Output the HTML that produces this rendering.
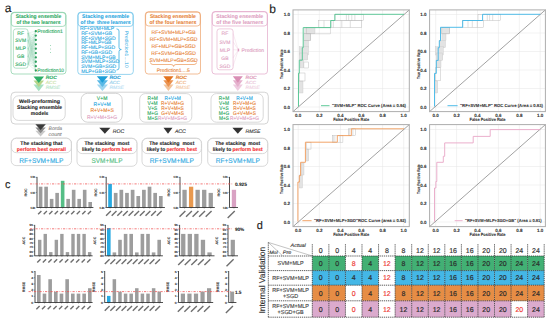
<!DOCTYPE html>
<html><head><meta charset="utf-8"><style>
html,body{margin:0;padding:0;background:#fff;overflow:hidden;}
svg{display:block;font-family:"Liberation Sans",sans-serif;}
</style></head><body>
<svg width="550" height="324" viewBox="0 0 550 324" text-rendering="geometricPrecision">
<rect x="0" y="0" width="550" height="324" fill="#fff"/>
<text x="4.8" y="12.22" font-size="12" fill="#222222" stroke="#222222" stroke-width="0.12" >a</text>
<rect x="11" y="12.3" width="55" height="61.7" rx="3" fill="none" stroke="#84cfa5" stroke-width="0.7" />
<rect x="11.3" y="12.6" width="54.4" height="13.8" rx="3" fill="none" stroke="#84cfa5" stroke-width="0.7" />
<text x="38.5" y="18.01" font-size="5.3" fill="#2eab64" font-weight="bold" text-anchor="middle" textLength="45.5" lengthAdjust="spacingAndGlyphs" stroke="#2eab64" stroke-width="0.09" >Stacking ensemble</text>
<text x="38.5" y="23.91" font-size="5.3" fill="#2eab64" font-weight="bold" text-anchor="middle" textLength="44" lengthAdjust="spacingAndGlyphs" stroke="#2eab64" stroke-width="0.09" >of the two learners</text>
<rect x="77.8" y="12.2" width="55.5" height="62.2" rx="3" fill="none" stroke="#6cc3ea" stroke-width="0.7" />
<rect x="78.1" y="12.5" width="54.9" height="13.9" rx="3" fill="none" stroke="#6cc3ea" stroke-width="0.7" />
<text x="105.55" y="18.01" font-size="5.3" fill="#2aa8df" font-weight="bold" text-anchor="middle" textLength="47" lengthAdjust="spacingAndGlyphs" stroke="#2aa8df" stroke-width="0.09" >Stacking ensemble</text>
<text x="105.55" y="23.91" font-size="5.3" fill="#2aa8df" font-weight="bold" text-anchor="middle" textLength="50" lengthAdjust="spacingAndGlyphs" stroke="#2aa8df" stroke-width="0.09" >of the  three learners</text>
<rect x="145.3" y="11.8" width="55.2" height="62.2" rx="3" fill="none" stroke="#eda26a" stroke-width="0.7" />
<rect x="145.6" y="12.1" width="54.6" height="13.9" rx="3" fill="none" stroke="#eda26a" stroke-width="0.7" />
<text x="172.9" y="18.01" font-size="5.3" fill="#e8853a" font-weight="bold" text-anchor="middle" textLength="46" lengthAdjust="spacingAndGlyphs" stroke="#e8853a" stroke-width="0.09" >Stacking ensemble</text>
<text x="172.9" y="23.91" font-size="5.3" fill="#e8853a" font-weight="bold" text-anchor="middle" textLength="47" lengthAdjust="spacingAndGlyphs" stroke="#e8853a" stroke-width="0.09" >of the four learners</text>
<rect x="212" y="11.5" width="55.5" height="62.5" rx="3" fill="none" stroke="#e2a8c8" stroke-width="0.7" />
<rect x="212.3" y="11.8" width="54.9" height="14.2" rx="3" fill="none" stroke="#e2a8c8" stroke-width="0.7" />
<text x="239.75" y="18.01" font-size="5.3" fill="#e09fc2" font-weight="bold" text-anchor="middle" textLength="47" lengthAdjust="spacingAndGlyphs" stroke="#e09fc2" stroke-width="0.09" >Stacking ensemble</text>
<text x="239.75" y="23.91" font-size="5.3" fill="#e09fc2" font-weight="bold" text-anchor="middle" textLength="47" lengthAdjust="spacingAndGlyphs" stroke="#e09fc2" stroke-width="0.09" >of the five learners</text>
<rect x="13.4" y="28.9" width="14.6" height="39.3" rx="2.5" fill="none" stroke="#84cfa5" stroke-width="0.6" />
<text x="20.7" y="34.8" font-size="5" fill="#2eab64" text-anchor="middle" stroke="#2eab64" stroke-width="0.12" >RF</text>
<text x="20.7" y="42.2" font-size="5" fill="#2eab64" text-anchor="middle" stroke="#2eab64" stroke-width="0.12" >SVM</text>
<text x="20.7" y="50.3" font-size="5" fill="#2eab64" text-anchor="middle" stroke="#2eab64" stroke-width="0.12" >MLP</text>
<text x="20.7" y="58.4" font-size="5" fill="#2eab64" text-anchor="middle" stroke="#2eab64" stroke-width="0.12" >GB</text>
<text x="20.7" y="66.2" font-size="5" fill="#2eab64" text-anchor="middle" stroke="#2eab64" stroke-width="0.12" >SGD</text>
<line x1="28" y1="33" x2="35.8" y2="31.2" stroke="#8fd1ae" stroke-width="0.22" />
<line x1="28" y1="33" x2="35.8" y2="35.57" stroke="#8fd1ae" stroke-width="0.22" />
<line x1="28" y1="33" x2="35.8" y2="39.93" stroke="#8fd1ae" stroke-width="0.22" />
<line x1="28" y1="33" x2="35.8" y2="44.3" stroke="#8fd1ae" stroke-width="0.22" />
<line x1="28" y1="33" x2="35.8" y2="48.67" stroke="#8fd1ae" stroke-width="0.22" />
<line x1="28" y1="33" x2="35.8" y2="53.03" stroke="#8fd1ae" stroke-width="0.22" />
<line x1="28" y1="33" x2="35.8" y2="57.4" stroke="#8fd1ae" stroke-width="0.22" />
<line x1="28" y1="33" x2="35.8" y2="61.77" stroke="#8fd1ae" stroke-width="0.22" />
<line x1="28" y1="33" x2="35.8" y2="66.13" stroke="#8fd1ae" stroke-width="0.22" />
<line x1="28" y1="33" x2="35.8" y2="70.5" stroke="#8fd1ae" stroke-width="0.22" />
<line x1="28" y1="40.4" x2="35.8" y2="31.2" stroke="#8fd1ae" stroke-width="0.22" />
<line x1="28" y1="40.4" x2="35.8" y2="35.57" stroke="#8fd1ae" stroke-width="0.22" />
<line x1="28" y1="40.4" x2="35.8" y2="39.93" stroke="#8fd1ae" stroke-width="0.22" />
<line x1="28" y1="40.4" x2="35.8" y2="44.3" stroke="#8fd1ae" stroke-width="0.22" />
<line x1="28" y1="40.4" x2="35.8" y2="48.67" stroke="#8fd1ae" stroke-width="0.22" />
<line x1="28" y1="40.4" x2="35.8" y2="53.03" stroke="#8fd1ae" stroke-width="0.22" />
<line x1="28" y1="40.4" x2="35.8" y2="57.4" stroke="#8fd1ae" stroke-width="0.22" />
<line x1="28" y1="40.4" x2="35.8" y2="61.77" stroke="#8fd1ae" stroke-width="0.22" />
<line x1="28" y1="40.4" x2="35.8" y2="66.13" stroke="#8fd1ae" stroke-width="0.22" />
<line x1="28" y1="40.4" x2="35.8" y2="70.5" stroke="#8fd1ae" stroke-width="0.22" />
<line x1="28" y1="48.5" x2="35.8" y2="31.2" stroke="#8fd1ae" stroke-width="0.22" />
<line x1="28" y1="48.5" x2="35.8" y2="35.57" stroke="#8fd1ae" stroke-width="0.22" />
<line x1="28" y1="48.5" x2="35.8" y2="39.93" stroke="#8fd1ae" stroke-width="0.22" />
<line x1="28" y1="48.5" x2="35.8" y2="44.3" stroke="#8fd1ae" stroke-width="0.22" />
<line x1="28" y1="48.5" x2="35.8" y2="48.67" stroke="#8fd1ae" stroke-width="0.22" />
<line x1="28" y1="48.5" x2="35.8" y2="53.03" stroke="#8fd1ae" stroke-width="0.22" />
<line x1="28" y1="48.5" x2="35.8" y2="57.4" stroke="#8fd1ae" stroke-width="0.22" />
<line x1="28" y1="48.5" x2="35.8" y2="61.77" stroke="#8fd1ae" stroke-width="0.22" />
<line x1="28" y1="48.5" x2="35.8" y2="66.13" stroke="#8fd1ae" stroke-width="0.22" />
<line x1="28" y1="48.5" x2="35.8" y2="70.5" stroke="#8fd1ae" stroke-width="0.22" />
<line x1="28" y1="56.6" x2="35.8" y2="31.2" stroke="#8fd1ae" stroke-width="0.22" />
<line x1="28" y1="56.6" x2="35.8" y2="35.57" stroke="#8fd1ae" stroke-width="0.22" />
<line x1="28" y1="56.6" x2="35.8" y2="39.93" stroke="#8fd1ae" stroke-width="0.22" />
<line x1="28" y1="56.6" x2="35.8" y2="44.3" stroke="#8fd1ae" stroke-width="0.22" />
<line x1="28" y1="56.6" x2="35.8" y2="48.67" stroke="#8fd1ae" stroke-width="0.22" />
<line x1="28" y1="56.6" x2="35.8" y2="53.03" stroke="#8fd1ae" stroke-width="0.22" />
<line x1="28" y1="56.6" x2="35.8" y2="57.4" stroke="#8fd1ae" stroke-width="0.22" />
<line x1="28" y1="56.6" x2="35.8" y2="61.77" stroke="#8fd1ae" stroke-width="0.22" />
<line x1="28" y1="56.6" x2="35.8" y2="66.13" stroke="#8fd1ae" stroke-width="0.22" />
<line x1="28" y1="56.6" x2="35.8" y2="70.5" stroke="#8fd1ae" stroke-width="0.22" />
<line x1="28" y1="64.4" x2="35.8" y2="31.2" stroke="#8fd1ae" stroke-width="0.22" />
<line x1="28" y1="64.4" x2="35.8" y2="35.57" stroke="#8fd1ae" stroke-width="0.22" />
<line x1="28" y1="64.4" x2="35.8" y2="39.93" stroke="#8fd1ae" stroke-width="0.22" />
<line x1="28" y1="64.4" x2="35.8" y2="44.3" stroke="#8fd1ae" stroke-width="0.22" />
<line x1="28" y1="64.4" x2="35.8" y2="48.67" stroke="#8fd1ae" stroke-width="0.22" />
<line x1="28" y1="64.4" x2="35.8" y2="53.03" stroke="#8fd1ae" stroke-width="0.22" />
<line x1="28" y1="64.4" x2="35.8" y2="57.4" stroke="#8fd1ae" stroke-width="0.22" />
<line x1="28" y1="64.4" x2="35.8" y2="61.77" stroke="#8fd1ae" stroke-width="0.22" />
<line x1="28" y1="64.4" x2="35.8" y2="66.13" stroke="#8fd1ae" stroke-width="0.22" />
<line x1="28" y1="64.4" x2="35.8" y2="70.5" stroke="#8fd1ae" stroke-width="0.22" />
<circle cx="35.8" cy="31.2" r="1.15" fill="#2a9d5c"/>
<circle cx="35.8" cy="35.57" r="1.15" fill="#2a9d5c"/>
<circle cx="35.8" cy="39.93" r="1.15" fill="#2a9d5c"/>
<circle cx="35.8" cy="44.3" r="1.15" fill="#2a9d5c"/>
<circle cx="35.8" cy="48.67" r="1.15" fill="#2a9d5c"/>
<circle cx="35.8" cy="53.03" r="1.15" fill="#2a9d5c"/>
<circle cx="35.8" cy="57.4" r="1.15" fill="#2a9d5c"/>
<circle cx="35.8" cy="61.77" r="1.15" fill="#2a9d5c"/>
<circle cx="35.8" cy="66.13" r="1.15" fill="#2a9d5c"/>
<circle cx="35.8" cy="70.5" r="1.15" fill="#2a9d5c"/>
<text x="37.3" y="33.3" font-size="5" fill="#2eab64" textLength="25.5" lengthAdjust="spacingAndGlyphs" stroke="#2eab64" stroke-width="0.12" >Prediction1</text>
<text x="37.3" y="72.3" font-size="5" fill="#2eab64" textLength="26.7" lengthAdjust="spacingAndGlyphs" stroke="#2eab64" stroke-width="0.12" >Prediction10</text>
<circle cx="50.4" cy="45.5" r="0.4" fill="#2eab64"/>
<circle cx="50.4" cy="49" r="0.4" fill="#2eab64"/>
<circle cx="50.4" cy="52.5" r="0.4" fill="#2eab64"/>
<text x="80.1" y="30.24" font-size="5.1" fill="#2aa8df" textLength="33.96" lengthAdjust="spacingAndGlyphs" stroke="#2aa8df" stroke-width="0.12" >RF+SVM+MLP</text>
<text x="81.2" y="34.97" font-size="5.1" fill="#2aa8df" textLength="30.87" lengthAdjust="spacingAndGlyphs" stroke="#2aa8df" stroke-width="0.12" >RF+SVM+GB</text>
<text x="81.2" y="39.7" font-size="5.1" fill="#2aa8df" textLength="34.52" lengthAdjust="spacingAndGlyphs" stroke="#2aa8df" stroke-width="0.12" >RF+SVM+SGD</text>
<text x="81.2" y="44.44" font-size="5.1" fill="#2aa8df" textLength="30.31" lengthAdjust="spacingAndGlyphs" stroke="#2aa8df" stroke-width="0.12" >RF+MLP+GB</text>
<text x="81.2" y="49.17" font-size="5.1" fill="#2aa8df" textLength="33.96" lengthAdjust="spacingAndGlyphs" stroke="#2aa8df" stroke-width="0.12" >RF+MLP+SGD</text>
<text x="81.2" y="53.9" font-size="5.1" fill="#2aa8df" textLength="30.87" lengthAdjust="spacingAndGlyphs" stroke="#2aa8df" stroke-width="0.12" >RF+GB+SGD</text>
<text x="81.2" y="58.64" font-size="5.1" fill="#2aa8df" textLength="34.52" lengthAdjust="spacingAndGlyphs" stroke="#2aa8df" stroke-width="0.12" >SVM+MLP+GB</text>
<text x="81.2" y="63.37" font-size="5.1" fill="#2aa8df" textLength="38.17" lengthAdjust="spacingAndGlyphs" stroke="#2aa8df" stroke-width="0.12" >SVM+MLP+SGD</text>
<text x="81.2" y="68.1" font-size="5.1" fill="#2aa8df" textLength="35.08" lengthAdjust="spacingAndGlyphs" stroke="#2aa8df" stroke-width="0.12" >SVM+GB+SGD</text>
<text x="81.2" y="72.84" font-size="5.1" fill="#2aa8df" textLength="34.52" lengthAdjust="spacingAndGlyphs" stroke="#2aa8df" stroke-width="0.12" >MLP+GB+SGD</text>
<path d="M116.5,28.9 Q119,28.9 119,31 L119,47.5 Q119,49.5 121.3,49.5 Q119,49.5 119,51.5 L119,68 Q119,70 116.5,70" stroke="#2aa8df" stroke-width="0.75" fill="none" />
<text x="0" y="0" font-size="4.9" fill="#2aa8df" transform="translate(125.2,49.3) rotate(90)" text-anchor="middle" textLength="37" lengthAdjust="spacingAndGlyphs">Prediction1....10</text>
<text x="173.6" y="33.87" font-size="5.2" fill="#e8853a" text-anchor="middle" textLength="44.03" lengthAdjust="spacingAndGlyphs" stroke="#e8853a" stroke-width="0.12" >RF+SVM+MLP+GB</text>
<text x="173.6" y="40.77" font-size="5.2" fill="#e8853a" text-anchor="middle" textLength="47.66" lengthAdjust="spacingAndGlyphs" stroke="#e8853a" stroke-width="0.12" >RF+SVM+MLP+SGD</text>
<text x="173.6" y="47.67" font-size="5.2" fill="#e8853a" text-anchor="middle" textLength="44.03" lengthAdjust="spacingAndGlyphs" stroke="#e8853a" stroke-width="0.12" >RF+MLP+GB+SGD</text>
<text x="173.6" y="54.67" font-size="5.2" fill="#e8853a" text-anchor="middle" textLength="44.58" lengthAdjust="spacingAndGlyphs" stroke="#e8853a" stroke-width="0.12" >RF+SVM+GB+SGD</text>
<text x="173.6" y="62.07" font-size="5.2" fill="#e8853a" text-anchor="middle" textLength="48.22" lengthAdjust="spacingAndGlyphs" stroke="#e8853a" stroke-width="0.12" >SVM+MLP+GB+SGD</text>
<path d="M150.5,62.5 Q150.5,64.5 153,64.5 L171,64.5 Q173.6,64.5 173.6,66.5 Q173.6,64.5 176,64.5 L194,64.5 Q196.5,64.5 196.5,62.5" stroke="#e8853a" stroke-width="0.6" fill="none" />
<text x="156.7" y="72.2" font-size="5" fill="#e8853a" textLength="33.1" lengthAdjust="spacingAndGlyphs" stroke="#e8853a" stroke-width="0.12" >Prediction1....5</text>
<rect x="217" y="28.9" width="16.1" height="40.9" rx="2.5" fill="none" stroke="#e2a8c8" stroke-width="0.6" />
<text x="224.9" y="35.3" font-size="5" fill="#e09fc2" text-anchor="middle" stroke="#e09fc2" stroke-width="0.12" >RF</text>
<text x="224.9" y="43.5" font-size="5" fill="#e09fc2" text-anchor="middle" stroke="#e09fc2" stroke-width="0.12" >SVM</text>
<text x="224.9" y="51.5" font-size="5" fill="#e09fc2" text-anchor="middle" stroke="#e09fc2" stroke-width="0.12" >MLP</text>
<text x="224.9" y="59.7" font-size="5" fill="#e09fc2" text-anchor="middle" stroke="#e09fc2" stroke-width="0.12" >GB</text>
<text x="224.9" y="67.7" font-size="5" fill="#e09fc2" text-anchor="middle" stroke="#e09fc2" stroke-width="0.12" >SGD</text>
<line x1="233.1" y1="33.5" x2="238.3" y2="50" stroke="#e8bcd4" stroke-width="0.3" />
<line x1="233.1" y1="41.7" x2="238.3" y2="50" stroke="#e8bcd4" stroke-width="0.3" />
<line x1="233.1" y1="49.7" x2="238.3" y2="50" stroke="#e8bcd4" stroke-width="0.3" />
<line x1="233.1" y1="57.9" x2="238.3" y2="50" stroke="#e8bcd4" stroke-width="0.3" />
<line x1="233.1" y1="65.9" x2="238.3" y2="50" stroke="#e8bcd4" stroke-width="0.3" />
<rect x="237.8" y="48.6" width="1.4" height="2.8" rx="0" fill="#e09fc2" stroke="none" stroke-width="0.6" />
<text x="241.6" y="51.8" font-size="5" fill="#e09fc2" textLength="22.4" lengthAdjust="spacingAndGlyphs" stroke="#e09fc2" stroke-width="0.12" >Prediction</text>
<polygon points="33.5,84.6 44,84.6 38.75,91.2" fill="#a6e0c0" stroke="none" stroke-width="0" />
<polygon points="33.5,80.5 44,80.5 38.75,87.1" fill="#b6d58a" stroke="none" stroke-width="0" />
<polygon points="33.5,76.4 44,76.4 38.75,83" fill="#2fae68" stroke="none" stroke-width="0" />
<text x="45.8" y="79.26" font-size="4.6" fill="#2fae68" font-weight="bold" font-style="italic" textLength="11" lengthAdjust="spacingAndGlyphs" stroke="#2fae68" stroke-width="0.12" >ROC</text>
<text x="45.8" y="84.36" font-size="4.6" fill="#c5dea0" font-style="italic" textLength="10.45" lengthAdjust="spacingAndGlyphs" stroke="#c5dea0" stroke-width="0.12" >ACC</text>
<text x="45.8" y="89.46" font-size="4.6" fill="#b7e6cc" font-style="italic" textLength="14.3" lengthAdjust="spacingAndGlyphs" stroke="#b7e6cc" stroke-width="0.12" >RMSE</text>
<polygon points="96.8,84.4 108,84.4 102.4,91" fill="#9fd6f0" stroke="none" stroke-width="0" />
<polygon points="96.8,80.3 108,80.3 102.4,86.9" fill="#5ab9e6" stroke="none" stroke-width="0" />
<polygon points="96.8,76.2 108,76.2 102.4,82.8" fill="#1f9fd8" stroke="none" stroke-width="0" />
<text x="109.5" y="79.26" font-size="4.6" fill="#2aa0d8" font-weight="bold" font-style="italic" textLength="11" lengthAdjust="spacingAndGlyphs" stroke="#2aa0d8" stroke-width="0.12" >ROC</text>
<text x="109.5" y="84.36" font-size="4.6" fill="#8ccbea" font-style="italic" textLength="10.45" lengthAdjust="spacingAndGlyphs" stroke="#8ccbea" stroke-width="0.12" >ACC</text>
<text x="109.5" y="89.46" font-size="4.6" fill="#b7e0f3" font-style="italic" textLength="14.3" lengthAdjust="spacingAndGlyphs" stroke="#b7e0f3" stroke-width="0.12" >RMSE</text>
<polygon points="163.3,84.4 173.5,84.4 168.4,91" fill="#f2c39a" stroke="none" stroke-width="0" />
<polygon points="163.3,80.3 173.5,80.3 168.4,86.9" fill="#eb9350" stroke="none" stroke-width="0" />
<polygon points="163.3,76.2 173.5,76.2 168.4,82.8" fill="#e3731f" stroke="none" stroke-width="0" />
<text x="175.8" y="79.26" font-size="4.6" fill="#e3802f" font-weight="bold" font-style="italic" textLength="11" lengthAdjust="spacingAndGlyphs" stroke="#e3802f" stroke-width="0.12" >ROC</text>
<text x="175.8" y="84.36" font-size="4.6" fill="#efaa70" font-style="italic" textLength="10.45" lengthAdjust="spacingAndGlyphs" stroke="#efaa70" stroke-width="0.12" >ACC</text>
<text x="175.8" y="89.46" font-size="4.6" fill="#f5c9a4" font-style="italic" textLength="14.3" lengthAdjust="spacingAndGlyphs" stroke="#f5c9a4" stroke-width="0.12" >RMSE</text>
<polygon points="232.8,84.4 242.8,84.4 237.8,91" fill="#eecbe0" stroke="none" stroke-width="0" />
<polygon points="232.8,80.3 242.8,80.3 237.8,86.9" fill="#e5b0cd" stroke="none" stroke-width="0" />
<polygon points="232.8,76.2 242.8,76.2 237.8,82.8" fill="#d98fb5" stroke="none" stroke-width="0" />
<text x="245.6" y="79.26" font-size="4.6" fill="#e09fc0" font-weight="bold" font-style="italic" textLength="11" lengthAdjust="spacingAndGlyphs" stroke="#e09fc0" stroke-width="0.12" >ROC</text>
<text x="245.6" y="84.36" font-size="4.6" fill="#e9bcd5" font-style="italic" textLength="10.45" lengthAdjust="spacingAndGlyphs" stroke="#e9bcd5" stroke-width="0.12" >ACC</text>
<text x="245.6" y="89.46" font-size="4.6" fill="#f0d2e3" font-style="italic" textLength="14.3" lengthAdjust="spacingAndGlyphs" stroke="#f0d2e3" stroke-width="0.12" >RMSE</text>
<rect x="11" y="92.2" width="257.3" height="31.8" rx="4" fill="none" stroke="#cfcfcf" stroke-width="0.9" />
<rect x="13" y="95.8" width="52.2" height="24.6" rx="5.5" fill="#fff" stroke="#c8c8c8" stroke-width="0.7" />
<text x="39.6" y="103.27" font-size="5.2" fill="#222222" font-weight="bold" text-anchor="middle" textLength="41" lengthAdjust="spacingAndGlyphs" stroke="#222222" stroke-width="0.09" >Well-preforming</text>
<text x="39.6" y="109.47" font-size="5.2" fill="#222222" font-weight="bold" text-anchor="middle" textLength="45" lengthAdjust="spacingAndGlyphs" stroke="#222222" stroke-width="0.09" >Stacking ensemble</text>
<text x="39.6" y="115.07" font-size="5.2" fill="#222222" font-weight="bold" text-anchor="middle" textLength="17.5" lengthAdjust="spacingAndGlyphs" stroke="#222222" stroke-width="0.09" >models</text>
<rect x="81.1" y="93.3" width="41.1" height="28.9" rx="6.5" fill="#fff" stroke="#c8c8c8" stroke-width="0.8" />
<text x="102.1" y="100.04" font-size="5.4" fill="#2eab64" text-anchor="middle" textLength="10.52" lengthAdjust="spacingAndGlyphs" stroke="#2eab64" stroke-width="0.13" >V+M</text>
<text x="102.1" y="105.94" font-size="5.4" fill="#2aa8df" text-anchor="middle" textLength="17.12" lengthAdjust="spacingAndGlyphs" stroke="#2aa8df" stroke-width="0.13" >R+V+M</text>
<text x="102.1" y="112.04" font-size="5.4" fill="#e8853a" text-anchor="middle" textLength="23.44" lengthAdjust="spacingAndGlyphs" stroke="#e8853a" stroke-width="0.13" >R+V+M+S</text>
<text x="102.1" y="118.74" font-size="5.4" fill="#e09fc2" text-anchor="middle" textLength="30.31" lengthAdjust="spacingAndGlyphs" stroke="#e09fc2" stroke-width="0.13" >R+V+M+S+G</text>
<rect x="139.7" y="93.6" width="52.1" height="28.6" rx="5.5" fill="#fff" stroke="#c8c8c8" stroke-width="0.7" />
<text x="152.6" y="99.71" font-size="5.3" fill="#2eab64" text-anchor="middle" textLength="10.37" lengthAdjust="spacingAndGlyphs" stroke="#2eab64" stroke-width="0.13" >R+M</text>
<text x="172.6" y="99.71" font-size="5.3" fill="#2aa8df" text-anchor="middle" textLength="16.44" lengthAdjust="spacingAndGlyphs" stroke="#2aa8df" stroke-width="0.13" >R+V+M</text>
<text x="152.6" y="104.81" font-size="5.3" fill="#2eab64" text-anchor="middle" textLength="10.11" lengthAdjust="spacingAndGlyphs" stroke="#2eab64" stroke-width="0.13" >V+M</text>
<text x="172.6" y="104.81" font-size="5.3" fill="#e8853a" text-anchor="middle" textLength="23.05" lengthAdjust="spacingAndGlyphs" stroke="#e8853a" stroke-width="0.13" >R+V+M+G</text>
<text x="152.6" y="109.91" font-size="5.3" fill="#2eab64" text-anchor="middle" textLength="9.3" lengthAdjust="spacingAndGlyphs" stroke="#2eab64" stroke-width="0.13" >V+S</text>
<text x="172.6" y="109.91" font-size="5.3" fill="#e8853a" text-anchor="middle" textLength="22.51" lengthAdjust="spacingAndGlyphs" stroke="#e8853a" stroke-width="0.13" >R+V+M+S</text>
<text x="152.6" y="115.01" font-size="5.3" fill="#2eab64" text-anchor="middle" textLength="10.64" lengthAdjust="spacingAndGlyphs" stroke="#2eab64" stroke-width="0.13" >M+G</text>
<text x="172.6" y="115.01" font-size="5.3" fill="#e8853a" text-anchor="middle" textLength="22.78" lengthAdjust="spacingAndGlyphs" stroke="#e8853a" stroke-width="0.13" >G+V+M+S</text>
<text x="152.6" y="120.21" font-size="5.3" fill="#2eab64" text-anchor="middle" textLength="10.11" lengthAdjust="spacingAndGlyphs" stroke="#2eab64" stroke-width="0.13" >M+S</text>
<text x="172.6" y="120.21" font-size="5.3" fill="#e09fc2" text-anchor="middle" textLength="29.11" lengthAdjust="spacingAndGlyphs" stroke="#e09fc2" stroke-width="0.13" >R+V+M+S+G</text>
<rect x="211" y="93.6" width="52.2" height="28.6" rx="5.5" fill="#fff" stroke="#c8c8c8" stroke-width="0.7" />
<text x="224" y="99.71" font-size="5.3" fill="#2eab64" text-anchor="middle" textLength="10.37" lengthAdjust="spacingAndGlyphs" stroke="#2eab64" stroke-width="0.13" >R+M</text>
<text x="244.5" y="99.71" font-size="5.3" fill="#2aa8df" text-anchor="middle" textLength="16.44" lengthAdjust="spacingAndGlyphs" stroke="#2aa8df" stroke-width="0.13" >R+V+M</text>
<text x="224" y="104.81" font-size="5.3" fill="#2eab64" text-anchor="middle" textLength="10.11" lengthAdjust="spacingAndGlyphs" stroke="#2eab64" stroke-width="0.13" >V+M</text>
<text x="244.5" y="104.81" font-size="5.3" fill="#e8853a" text-anchor="middle" textLength="23.05" lengthAdjust="spacingAndGlyphs" stroke="#e8853a" stroke-width="0.13" >R+V+M+G</text>
<text x="224" y="109.91" font-size="5.3" fill="#2eab64" text-anchor="middle" textLength="9.3" lengthAdjust="spacingAndGlyphs" stroke="#2eab64" stroke-width="0.13" >V+S</text>
<text x="244.5" y="109.91" font-size="5.3" fill="#e8853a" text-anchor="middle" textLength="22.51" lengthAdjust="spacingAndGlyphs" stroke="#e8853a" stroke-width="0.13" >R+V+M+S</text>
<text x="224" y="115.01" font-size="5.3" fill="#2eab64" text-anchor="middle" textLength="10.64" lengthAdjust="spacingAndGlyphs" stroke="#2eab64" stroke-width="0.13" >M+G</text>
<text x="244.5" y="115.01" font-size="5.3" fill="#e8853a" text-anchor="middle" textLength="22.78" lengthAdjust="spacingAndGlyphs" stroke="#e8853a" stroke-width="0.13" >G+V+M+S</text>
<text x="224" y="120.21" font-size="5.3" fill="#2eab64" text-anchor="middle" textLength="10.11" lengthAdjust="spacingAndGlyphs" stroke="#2eab64" stroke-width="0.13" >M+S</text>
<text x="244.5" y="120.21" font-size="5.3" fill="#e09fc2" text-anchor="middle" textLength="29.11" lengthAdjust="spacingAndGlyphs" stroke="#e09fc2" stroke-width="0.13" >R+V+M+S+G</text>
<polygon points="35.4,130.8 45.8,130.8 40.6,136.6" fill="#c9c9c9" stroke="none" stroke-width="0" />
<polygon points="35.4,127.5 45.8,127.5 40.6,133.3" fill="#8a8a8a" stroke="none" stroke-width="0" />
<polygon points="35.4,124.2 45.8,124.2 40.6,130" fill="#3a3a3a" stroke="none" stroke-width="0" />
<text x="48.6" y="130" font-size="5" fill="#8a8a8a" font-style="italic" textLength="13.5" lengthAdjust="spacingAndGlyphs" stroke="#8a8a8a" stroke-width="0.12" >Borda</text>
<text x="48.6" y="136" font-size="5" fill="#8a8a8a" font-style="italic" textLength="13" lengthAdjust="spacingAndGlyphs" stroke="#8a8a8a" stroke-width="0.12" >count</text>
<polygon points="99.3,127.8 110.4,127.8 104.85,133.8" fill="#333" stroke="none" stroke-width="0" />
<text x="112.8" y="132.67" font-size="5.2" fill="#333" font-style="italic" textLength="11.33" lengthAdjust="spacingAndGlyphs" stroke="#333" stroke-width="0.12" >ROC</text>
<polygon points="163.5,127.8 172.5,127.8 168,133.8" fill="#333" stroke="none" stroke-width="0" />
<text x="174.9" y="132.67" font-size="5.2" fill="#333" font-style="italic" textLength="10.77" lengthAdjust="spacingAndGlyphs" stroke="#333" stroke-width="0.12" >ACC</text>
<polygon points="232.4,127.8 243.2,127.8 237.8,133.8" fill="#333" stroke="none" stroke-width="0" />
<text x="245.6" y="132.67" font-size="5.2" fill="#333" font-style="italic" textLength="14.73" lengthAdjust="spacingAndGlyphs" stroke="#333" stroke-width="0.12" >RMSE</text>
<rect x="11.2" y="138.1" width="60.3" height="27.5" rx="5" fill="none" stroke="#c8c8c8" stroke-width="0.7" />
<rect x="11.4" y="138.3" width="59.9" height="14.4" rx="5" fill="#fff" stroke="#c8c8c8" stroke-width="0.7" />
<text x="41.35" y="145.07" font-size="5.2" fill="#222222" font-weight="bold" text-anchor="middle" textLength="42" lengthAdjust="spacingAndGlyphs" stroke="#222222" stroke-width="0.09" >The stacking that</text>
<text x="41.35" y="151.07" font-size="5.2" fill="#f5282a" font-weight="bold" text-anchor="middle" textLength="49" lengthAdjust="spacingAndGlyphs" stroke="#f5282a" stroke-width="0.09" >perform best overall</text>
<text x="41.35" y="162.68" font-size="6.9" fill="#2aa8df" text-anchor="middle" textLength="44" lengthAdjust="spacingAndGlyphs" stroke="#2aa8df" stroke-width="0.12" >RF+SVM+MLP</text>
<rect x="77" y="138.2" width="60" height="28.1" rx="5" fill="none" stroke="#c8c8c8" stroke-width="0.7" />
<rect x="77.2" y="138.4" width="59.6" height="15.2" rx="5" fill="#fff" stroke="#c8c8c8" stroke-width="0.7" />
<text x="107" y="145.07" font-size="5.2" fill="#222222" font-weight="bold" text-anchor="middle" textLength="45" lengthAdjust="spacingAndGlyphs" stroke="#222222" stroke-width="0.09" >The stacking  most</text>
<text x="82" y="151.07" font-size="5.2" fill="#222222" font-weight="bold" textLength="18.41" lengthAdjust="spacingAndGlyphs" stroke="#222222" stroke-width="0.09" >likely to</text>
<text x="101.78" y="151.07" font-size="5.2" fill="#f5282a" font-weight="bold" textLength="30.22" lengthAdjust="spacingAndGlyphs" stroke="#f5282a" stroke-width="0.09" >perform best</text>
<text x="107" y="162.68" font-size="6.9" fill="#52bd80" text-anchor="middle" textLength="31" lengthAdjust="spacingAndGlyphs" stroke="#52bd80" stroke-width="0.12" >SVM+MLP</text>
<rect x="142" y="138.2" width="59.6" height="28.1" rx="5" fill="none" stroke="#c8c8c8" stroke-width="0.7" />
<rect x="142.2" y="138.4" width="59.2" height="15.2" rx="5" fill="#fff" stroke="#c8c8c8" stroke-width="0.7" />
<text x="171.8" y="145.07" font-size="5.2" fill="#222222" font-weight="bold" text-anchor="middle" textLength="45" lengthAdjust="spacingAndGlyphs" stroke="#222222" stroke-width="0.09" >The stacking  most</text>
<text x="146.8" y="151.07" font-size="5.2" fill="#222222" font-weight="bold" textLength="18.41" lengthAdjust="spacingAndGlyphs" stroke="#222222" stroke-width="0.09" >likely to</text>
<text x="166.58" y="151.07" font-size="5.2" fill="#f5282a" font-weight="bold" textLength="30.22" lengthAdjust="spacingAndGlyphs" stroke="#f5282a" stroke-width="0.09" >perform best</text>
<text x="171.8" y="162.68" font-size="6.9" fill="#2aa8df" text-anchor="middle" textLength="44" lengthAdjust="spacingAndGlyphs" stroke="#2aa8df" stroke-width="0.12" >RF+SVM+MLP</text>
<rect x="207.7" y="138.2" width="60.1" height="28.1" rx="5" fill="none" stroke="#c8c8c8" stroke-width="0.7" />
<rect x="207.9" y="138.4" width="59.7" height="15.2" rx="5" fill="#fff" stroke="#c8c8c8" stroke-width="0.7" />
<text x="237.75" y="145.07" font-size="5.2" fill="#222222" font-weight="bold" text-anchor="middle" textLength="45" lengthAdjust="spacingAndGlyphs" stroke="#222222" stroke-width="0.09" >The stacking  most</text>
<text x="212.75" y="151.07" font-size="5.2" fill="#222222" font-weight="bold" textLength="18.41" lengthAdjust="spacingAndGlyphs" stroke="#222222" stroke-width="0.09" >likely to</text>
<text x="232.53" y="151.07" font-size="5.2" fill="#f5282a" font-weight="bold" textLength="30.22" lengthAdjust="spacingAndGlyphs" stroke="#f5282a" stroke-width="0.09" >perform best</text>
<text x="237.75" y="162.68" font-size="6.9" fill="#2aa8df" text-anchor="middle" textLength="44" lengthAdjust="spacingAndGlyphs" stroke="#2aa8df" stroke-width="0.12" >RF+SVM+MLP</text>
<text x="269.2" y="12.62" font-size="12" fill="#222222" stroke="#222222" stroke-width="0.12" >b</text>
<rect x="293" y="9.9" width="116.3" height="101.7" rx="0" fill="#fff" stroke="none" stroke-width="0.6" />
<line x1="298.2" y1="9.9" x2="298.2" y2="111.6" stroke="#e4e4e4" stroke-width="0.5" />
<line x1="293" y1="107" x2="409.3" y2="107" stroke="#e4e4e4" stroke-width="0.5" />
<line x1="319.3" y1="9.9" x2="319.3" y2="111.6" stroke="#e4e4e4" stroke-width="0.5" />
<line x1="293" y1="88.5" x2="409.3" y2="88.5" stroke="#e4e4e4" stroke-width="0.5" />
<line x1="340.4" y1="9.9" x2="340.4" y2="111.6" stroke="#e4e4e4" stroke-width="0.5" />
<line x1="293" y1="70" x2="409.3" y2="70" stroke="#e4e4e4" stroke-width="0.5" />
<line x1="361.5" y1="9.9" x2="361.5" y2="111.6" stroke="#e4e4e4" stroke-width="0.5" />
<line x1="293" y1="51.5" x2="409.3" y2="51.5" stroke="#e4e4e4" stroke-width="0.5" />
<line x1="382.6" y1="9.9" x2="382.6" y2="111.6" stroke="#e4e4e4" stroke-width="0.5" />
<line x1="293" y1="33" x2="409.3" y2="33" stroke="#e4e4e4" stroke-width="0.5" />
<line x1="403.7" y1="9.9" x2="403.7" y2="111.6" stroke="#e4e4e4" stroke-width="0.5" />
<line x1="293" y1="14.5" x2="409.3" y2="14.5" stroke="#e4e4e4" stroke-width="0.5" />
<rect x="304.8" y="27.6" width="10.2" height="6.2" rx="0" fill="#e3e3e3" stroke="#c4c4c4" stroke-width="0.35" />
<rect x="304.8" y="33.8" width="6" height="6.5" rx="0" fill="#e3e3e3" stroke="#c4c4c4" stroke-width="0.35" />
<rect x="303.9" y="40.3" width="4.6" height="7.4" rx="0" fill="#e3e3e3" stroke="#c4c4c4" stroke-width="0.35" />
<rect x="299.3" y="46.8" width="9.2" height="8.2" rx="0" fill="#e3e3e3" stroke="#c4c4c4" stroke-width="0.35" />
<rect x="299.3" y="53" width="8.5" height="7" rx="0" fill="#e3e3e3" stroke="#c4c4c4" stroke-width="0.35" />
<rect x="298.8" y="81" width="4.2" height="12" rx="0" fill="#e3e3e3" stroke="#c4c4c4" stroke-width="0.35" />
<rect x="300" y="60" width="3.5" height="8" rx="0" fill="#e3e3e3" stroke="#c4c4c4" stroke-width="0.35" />
<rect x="318.7" y="20.5" width="43.1" height="7.1" rx="0" fill="none" stroke="#b8b8b8" stroke-width="0.45" />
<line x1="324" y1="20.5" x2="324" y2="27.6" stroke="#b8b8b8" stroke-width="0.45" />
<line x1="331" y1="20.5" x2="331" y2="27.6" stroke="#b8b8b8" stroke-width="0.45" />
<line x1="333.3" y1="20.5" x2="333.3" y2="27.6" stroke="#b8b8b8" stroke-width="0.45" />
<line x1="341.8" y1="20.5" x2="341.8" y2="27.6" stroke="#b8b8b8" stroke-width="0.45" />
<line x1="350.3" y1="20.5" x2="350.3" y2="27.6" stroke="#b8b8b8" stroke-width="0.45" />
<rect x="334.9" y="14.3" width="28.5" height="6.2" rx="0" fill="none" stroke="#b8b8b8" stroke-width="0.45" />
<line x1="346.4" y1="14.3" x2="346.4" y2="20.5" stroke="#b8b8b8" stroke-width="0.45" />
<line x1="348.7" y1="14.3" x2="348.7" y2="20.5" stroke="#b8b8b8" stroke-width="0.45" />
<line x1="351.8" y1="14.3" x2="351.8" y2="20.5" stroke="#b8b8b8" stroke-width="0.45" />
<line x1="354.9" y1="14.3" x2="354.9" y2="20.5" stroke="#b8b8b8" stroke-width="0.45" />
<rect x="306.3" y="27.6" width="23.9" height="6.3" rx="0" fill="none" stroke="#b8b8b8" stroke-width="0.45" />
<rect x="303.9" y="62" width="4.6" height="6" rx="0" fill="none" stroke="#b8b8b8" stroke-width="0.45" />
<rect x="299.3" y="73" width="5.7" height="8" rx="0" fill="none" stroke="#b8b8b8" stroke-width="0.45" />
<rect x="303.9" y="33.8" width="6.9" height="6.5" rx="0" fill="none" stroke="#b8b8b8" stroke-width="0.45" />
<line x1="293" y1="111.6" x2="409.3" y2="9.9" stroke="#555" stroke-width="0.55" />
<path d="M298.5,106.5 L298.5,73.2 L299.3,73.2 L299.3,60.2 L302.3,60.2 L302.3,47.7 L303.2,47.7 L303.2,27.6 L330.7,27.6 L330.7,20.5 L334.9,20.5 L334.9,14.3 L404,14.3" stroke="#4fc48f" stroke-width="0.9" fill="none" />
<rect x="293" y="9.9" width="116.3" height="101.7" rx="0" fill="none" stroke="#adadad" stroke-width="1" />
<text x="290" y="108.62" font-size="4.5" fill="#333" font-weight="bold" text-anchor="end" stroke="#333" stroke-width="0.08" >0.0</text>
<text x="298.2" y="116.62" font-size="4.5" fill="#333" font-weight="bold" text-anchor="middle" stroke="#333" stroke-width="0.08" >0.0</text>
<text x="290" y="90.12" font-size="4.5" fill="#333" font-weight="bold" text-anchor="end" stroke="#333" stroke-width="0.08" >0.2</text>
<text x="319.3" y="116.62" font-size="4.5" fill="#333" font-weight="bold" text-anchor="middle" stroke="#333" stroke-width="0.08" >0.2</text>
<text x="290" y="71.62" font-size="4.5" fill="#333" font-weight="bold" text-anchor="end" stroke="#333" stroke-width="0.08" >0.4</text>
<text x="340.4" y="116.62" font-size="4.5" fill="#333" font-weight="bold" text-anchor="middle" stroke="#333" stroke-width="0.08" >0.4</text>
<text x="290" y="53.12" font-size="4.5" fill="#333" font-weight="bold" text-anchor="end" stroke="#333" stroke-width="0.08" >0.6</text>
<text x="361.5" y="116.62" font-size="4.5" fill="#333" font-weight="bold" text-anchor="middle" stroke="#333" stroke-width="0.08" >0.6</text>
<text x="290" y="34.62" font-size="4.5" fill="#333" font-weight="bold" text-anchor="end" stroke="#333" stroke-width="0.08" >0.8</text>
<text x="382.6" y="116.62" font-size="4.5" fill="#333" font-weight="bold" text-anchor="middle" stroke="#333" stroke-width="0.08" >0.8</text>
<text x="290" y="16.12" font-size="4.5" fill="#333" font-weight="bold" text-anchor="end" stroke="#333" stroke-width="0.08" >1.0</text>
<text x="403.7" y="116.62" font-size="4.5" fill="#333" font-weight="bold" text-anchor="middle" stroke="#333" stroke-width="0.08" >1.0</text>
<text x="0" y="0" font-size="4.2" font-weight="bold" fill="#333" stroke="#333" stroke-width="0.1" transform="translate(283.4,64.25) rotate(-90)" text-anchor="middle" textLength="29.6" lengthAdjust="spacingAndGlyphs">True Positive Rate</text>
<text x="351.15" y="121.42" font-size="4.5" fill="#333" font-weight="bold" text-anchor="middle" textLength="36" lengthAdjust="spacingAndGlyphs" stroke="#333" stroke-width="0.08" >False Positive Rate</text>
<line x1="321" y1="105.7" x2="329.5" y2="105.7" stroke="#4fc48f" stroke-width="0.9" />
<text x="332" y="107.28" font-size="4.4" fill="#333" font-weight="bold" textLength="74" lengthAdjust="spacingAndGlyphs" stroke="#333" stroke-width="0.07" >&quot;SVM+MLP&quot; ROC Curve (Area = 0.94)</text>
<rect x="429.6" y="9.9" width="115.8" height="101.7" rx="0" fill="#fff" stroke="none" stroke-width="0.6" />
<line x1="435.7" y1="9.9" x2="435.7" y2="111.6" stroke="#e4e4e4" stroke-width="0.5" />
<line x1="429.6" y1="107" x2="545.4" y2="107" stroke="#e4e4e4" stroke-width="0.5" />
<line x1="456.6" y1="9.9" x2="456.6" y2="111.6" stroke="#e4e4e4" stroke-width="0.5" />
<line x1="429.6" y1="88.5" x2="545.4" y2="88.5" stroke="#e4e4e4" stroke-width="0.5" />
<line x1="477.5" y1="9.9" x2="477.5" y2="111.6" stroke="#e4e4e4" stroke-width="0.5" />
<line x1="429.6" y1="70" x2="545.4" y2="70" stroke="#e4e4e4" stroke-width="0.5" />
<line x1="498.4" y1="9.9" x2="498.4" y2="111.6" stroke="#e4e4e4" stroke-width="0.5" />
<line x1="429.6" y1="51.5" x2="545.4" y2="51.5" stroke="#e4e4e4" stroke-width="0.5" />
<line x1="519.3" y1="9.9" x2="519.3" y2="111.6" stroke="#e4e4e4" stroke-width="0.5" />
<line x1="429.6" y1="33" x2="545.4" y2="33" stroke="#e4e4e4" stroke-width="0.5" />
<line x1="540.2" y1="9.9" x2="540.2" y2="111.6" stroke="#e4e4e4" stroke-width="0.5" />
<line x1="429.6" y1="14.5" x2="545.4" y2="14.5" stroke="#e4e4e4" stroke-width="0.5" />
<rect x="441.9" y="27.3" width="7.9" height="6.5" rx="0" fill="#e3e3e3" stroke="#c4c4c4" stroke-width="0.35" />
<rect x="441.9" y="33.8" width="4.1" height="6.5" rx="0" fill="#e3e3e3" stroke="#c4c4c4" stroke-width="0.35" />
<rect x="439.5" y="40.3" width="6" height="7.4" rx="0" fill="#e3e3e3" stroke="#c4c4c4" stroke-width="0.35" />
<rect x="435.4" y="46.8" width="7.9" height="8.2" rx="0" fill="#e3e3e3" stroke="#c4c4c4" stroke-width="0.35" />
<rect x="436.3" y="53" width="6.5" height="7.4" rx="0" fill="#e3e3e3" stroke="#c4c4c4" stroke-width="0.35" />
<rect x="435.4" y="81" width="2.3" height="12" rx="0" fill="#e3e3e3" stroke="#c4c4c4" stroke-width="0.35" />
<rect x="436.3" y="60.4" width="4.7" height="7.4" rx="0" fill="#e3e3e3" stroke="#c4c4c4" stroke-width="0.35" />
<rect x="462.6" y="20.5" width="20.8" height="6.8" rx="0" fill="none" stroke="#b8b8b8" stroke-width="0.45" />
<line x1="468" y1="20.5" x2="468" y2="27.3" stroke="#b8b8b8" stroke-width="0.45" />
<line x1="472.3" y1="20.5" x2="472.3" y2="27.3" stroke="#b8b8b8" stroke-width="0.45" />
<line x1="477.3" y1="20.5" x2="477.3" y2="27.3" stroke="#b8b8b8" stroke-width="0.45" />
<rect x="478" y="14.3" width="22.4" height="6.2" rx="0" fill="none" stroke="#b8b8b8" stroke-width="0.45" />
<line x1="487.3" y1="14.3" x2="487.3" y2="20.5" stroke="#b8b8b8" stroke-width="0.45" />
<line x1="489.6" y1="14.3" x2="489.6" y2="20.5" stroke="#b8b8b8" stroke-width="0.45" />
<line x1="492.7" y1="14.3" x2="492.7" y2="20.5" stroke="#b8b8b8" stroke-width="0.45" />
<rect x="441.8" y="27.3" width="7.7" height="6.6" rx="0" fill="none" stroke="#b8b8b8" stroke-width="0.45" />
<rect x="435.4" y="67.8" width="5.1" height="13" rx="0" fill="none" stroke="#b8b8b8" stroke-width="0.45" />
<line x1="429.6" y1="111.6" x2="545.4" y2="9.9" stroke="#555" stroke-width="0.55" />
<path d="M434.5,106.5 L434.5,73.4 L436.3,73.4 L436.3,60.4 L438.2,60.4 L438.2,47.7 L439.3,47.7 L439.3,40.7 L440.5,40.7 L440.5,27.3 L462.7,27.3 L462.7,20.5 L482.6,20.5 L482.6,14.3 L540.2,14.3" stroke="#3db5e6" stroke-width="0.9" fill="none" />
<rect x="429.6" y="9.9" width="115.8" height="101.7" rx="0" fill="none" stroke="#adadad" stroke-width="1" />
<text x="426.6" y="108.62" font-size="4.5" fill="#333" font-weight="bold" text-anchor="end" stroke="#333" stroke-width="0.08" >0.0</text>
<text x="435.7" y="116.62" font-size="4.5" fill="#333" font-weight="bold" text-anchor="middle" stroke="#333" stroke-width="0.08" >0.0</text>
<text x="426.6" y="90.12" font-size="4.5" fill="#333" font-weight="bold" text-anchor="end" stroke="#333" stroke-width="0.08" >0.2</text>
<text x="456.6" y="116.62" font-size="4.5" fill="#333" font-weight="bold" text-anchor="middle" stroke="#333" stroke-width="0.08" >0.2</text>
<text x="426.6" y="71.62" font-size="4.5" fill="#333" font-weight="bold" text-anchor="end" stroke="#333" stroke-width="0.08" >0.4</text>
<text x="477.5" y="116.62" font-size="4.5" fill="#333" font-weight="bold" text-anchor="middle" stroke="#333" stroke-width="0.08" >0.4</text>
<text x="426.6" y="53.12" font-size="4.5" fill="#333" font-weight="bold" text-anchor="end" stroke="#333" stroke-width="0.08" >0.6</text>
<text x="498.4" y="116.62" font-size="4.5" fill="#333" font-weight="bold" text-anchor="middle" stroke="#333" stroke-width="0.08" >0.6</text>
<text x="426.6" y="34.62" font-size="4.5" fill="#333" font-weight="bold" text-anchor="end" stroke="#333" stroke-width="0.08" >0.8</text>
<text x="519.3" y="116.62" font-size="4.5" fill="#333" font-weight="bold" text-anchor="middle" stroke="#333" stroke-width="0.08" >0.8</text>
<text x="426.6" y="16.12" font-size="4.5" fill="#333" font-weight="bold" text-anchor="end" stroke="#333" stroke-width="0.08" >1.0</text>
<text x="540.2" y="116.62" font-size="4.5" fill="#333" font-weight="bold" text-anchor="middle" stroke="#333" stroke-width="0.08" >1.0</text>
<text x="0" y="0" font-size="4.2" font-weight="bold" fill="#333" stroke="#333" stroke-width="0.1" transform="translate(420,64.25) rotate(-90)" text-anchor="middle" textLength="29.6" lengthAdjust="spacingAndGlyphs">True Positive Rate</text>
<text x="487.5" y="121.42" font-size="4.5" fill="#333" font-weight="bold" text-anchor="middle" textLength="36" lengthAdjust="spacingAndGlyphs" stroke="#333" stroke-width="0.08" >False Positive Rate</text>
<line x1="447.5" y1="105.7" x2="457.6" y2="105.7" stroke="#3db5e6" stroke-width="0.9" />
<text x="460.1" y="107.28" font-size="4.4" fill="#333" font-weight="bold" textLength="82.9" lengthAdjust="spacingAndGlyphs" stroke="#333" stroke-width="0.07" >&quot;RF+SVM+MLP&quot; ROC Curve (Area = 0.93)</text>
<rect x="293" y="124.6" width="116.3" height="102" rx="0" fill="#fff" stroke="none" stroke-width="0.6" />
<line x1="298.2" y1="124.6" x2="298.2" y2="226.6" stroke="#e4e4e4" stroke-width="0.5" />
<line x1="293" y1="222" x2="409.3" y2="222" stroke="#e4e4e4" stroke-width="0.5" />
<line x1="319.3" y1="124.6" x2="319.3" y2="226.6" stroke="#e4e4e4" stroke-width="0.5" />
<line x1="293" y1="203.5" x2="409.3" y2="203.5" stroke="#e4e4e4" stroke-width="0.5" />
<line x1="340.4" y1="124.6" x2="340.4" y2="226.6" stroke="#e4e4e4" stroke-width="0.5" />
<line x1="293" y1="185" x2="409.3" y2="185" stroke="#e4e4e4" stroke-width="0.5" />
<line x1="361.5" y1="124.6" x2="361.5" y2="226.6" stroke="#e4e4e4" stroke-width="0.5" />
<line x1="293" y1="166.5" x2="409.3" y2="166.5" stroke="#e4e4e4" stroke-width="0.5" />
<line x1="382.6" y1="124.6" x2="382.6" y2="226.6" stroke="#e4e4e4" stroke-width="0.5" />
<line x1="293" y1="148" x2="409.3" y2="148" stroke="#e4e4e4" stroke-width="0.5" />
<line x1="403.7" y1="124.6" x2="403.7" y2="226.6" stroke="#e4e4e4" stroke-width="0.5" />
<line x1="293" y1="129.5" x2="409.3" y2="129.5" stroke="#e4e4e4" stroke-width="0.5" />
<rect x="299.3" y="175" width="3.2" height="13" rx="0" fill="#e3e3e3" stroke="#c4c4c4" stroke-width="0.35" />
<rect x="301" y="163" width="3" height="12" rx="0" fill="#e3e3e3" stroke="#c4c4c4" stroke-width="0.35" />
<rect x="305.9" y="149" width="2.8" height="12" rx="0" fill="#e3e3e3" stroke="#c4c4c4" stroke-width="0.35" />
<rect x="332.5" y="135.6" width="10.4" height="6.6" rx="0" fill="none" stroke="#b8b8b8" stroke-width="0.45" />
<line x1="333.3" y1="135.6" x2="333.3" y2="142.2" stroke="#b8b8b8" stroke-width="0.45" />
<line x1="334.9" y1="135.6" x2="334.9" y2="142.2" stroke="#b8b8b8" stroke-width="0.45" />
<line x1="340.1" y1="135.6" x2="340.1" y2="142.2" stroke="#b8b8b8" stroke-width="0.45" />
<rect x="348.5" y="128.8" width="6.8" height="6.8" rx="0" fill="none" stroke="#b8b8b8" stroke-width="0.45" />
<line x1="349.3" y1="128.8" x2="349.3" y2="135.6" stroke="#b8b8b8" stroke-width="0.45" />
<line x1="352.9" y1="128.8" x2="352.9" y2="135.6" stroke="#b8b8b8" stroke-width="0.45" />
<rect x="306.8" y="142.2" width="4.2" height="6.9" rx="0" fill="none" stroke="#b8b8b8" stroke-width="0.45" />
<line x1="293" y1="226.6" x2="409.3" y2="124.6" stroke="#555" stroke-width="0.55" />
<path d="M297.9,221.5 L297.9,182.1 L299.3,182.1 L299.3,175.6 L300.6,175.6 L300.6,162.3 L305.4,162.3 L305.4,142.2 L337.3,142.2 L337.3,135.6 L351.3,135.6 L351.3,128.8 L404,128.8" stroke="#f09a58" stroke-width="0.9" fill="none" />
<rect x="293" y="124.6" width="116.3" height="102" rx="0" fill="none" stroke="#adadad" stroke-width="1" />
<text x="290" y="223.62" font-size="4.5" fill="#333" font-weight="bold" text-anchor="end" stroke="#333" stroke-width="0.08" >0.0</text>
<text x="298.2" y="231.62" font-size="4.5" fill="#333" font-weight="bold" text-anchor="middle" stroke="#333" stroke-width="0.08" >0.0</text>
<text x="290" y="205.12" font-size="4.5" fill="#333" font-weight="bold" text-anchor="end" stroke="#333" stroke-width="0.08" >0.2</text>
<text x="319.3" y="231.62" font-size="4.5" fill="#333" font-weight="bold" text-anchor="middle" stroke="#333" stroke-width="0.08" >0.2</text>
<text x="290" y="186.62" font-size="4.5" fill="#333" font-weight="bold" text-anchor="end" stroke="#333" stroke-width="0.08" >0.4</text>
<text x="340.4" y="231.62" font-size="4.5" fill="#333" font-weight="bold" text-anchor="middle" stroke="#333" stroke-width="0.08" >0.4</text>
<text x="290" y="168.12" font-size="4.5" fill="#333" font-weight="bold" text-anchor="end" stroke="#333" stroke-width="0.08" >0.6</text>
<text x="361.5" y="231.62" font-size="4.5" fill="#333" font-weight="bold" text-anchor="middle" stroke="#333" stroke-width="0.08" >0.6</text>
<text x="290" y="149.62" font-size="4.5" fill="#333" font-weight="bold" text-anchor="end" stroke="#333" stroke-width="0.08" >0.8</text>
<text x="382.6" y="231.62" font-size="4.5" fill="#333" font-weight="bold" text-anchor="middle" stroke="#333" stroke-width="0.08" >0.8</text>
<text x="290" y="131.12" font-size="4.5" fill="#333" font-weight="bold" text-anchor="end" stroke="#333" stroke-width="0.08" >1.0</text>
<text x="403.7" y="231.62" font-size="4.5" fill="#333" font-weight="bold" text-anchor="middle" stroke="#333" stroke-width="0.08" >1.0</text>
<text x="0" y="0" font-size="4.2" font-weight="bold" fill="#333" stroke="#333" stroke-width="0.1" transform="translate(283.4,179.1) rotate(-90)" text-anchor="middle" textLength="29.6" lengthAdjust="spacingAndGlyphs">True Positive Rate</text>
<text x="351.15" y="236.42" font-size="4.5" fill="#333" font-weight="bold" text-anchor="middle" textLength="36" lengthAdjust="spacingAndGlyphs" stroke="#333" stroke-width="0.08" >False Positive Rate</text>
<line x1="302.4" y1="220.7" x2="311.6" y2="220.7" stroke="#f09a58" stroke-width="0.9" />
<text x="314.1" y="222.28" font-size="4.4" fill="#333" font-weight="bold" textLength="91.9" lengthAdjust="spacingAndGlyphs" stroke="#333" stroke-width="0.07" >&quot;RF+SVM+MLP+SGD&quot;ROC Curve (area = 0.92)</text>
<rect x="429.6" y="124.6" width="115.8" height="102" rx="0" fill="#fff" stroke="none" stroke-width="0.6" />
<line x1="435.7" y1="124.6" x2="435.7" y2="226.6" stroke="#e4e4e4" stroke-width="0.5" />
<line x1="429.6" y1="222" x2="545.4" y2="222" stroke="#e4e4e4" stroke-width="0.5" />
<line x1="456.6" y1="124.6" x2="456.6" y2="226.6" stroke="#e4e4e4" stroke-width="0.5" />
<line x1="429.6" y1="203.5" x2="545.4" y2="203.5" stroke="#e4e4e4" stroke-width="0.5" />
<line x1="477.5" y1="124.6" x2="477.5" y2="226.6" stroke="#e4e4e4" stroke-width="0.5" />
<line x1="429.6" y1="185" x2="545.4" y2="185" stroke="#e4e4e4" stroke-width="0.5" />
<line x1="498.4" y1="124.6" x2="498.4" y2="226.6" stroke="#e4e4e4" stroke-width="0.5" />
<line x1="429.6" y1="166.5" x2="545.4" y2="166.5" stroke="#e4e4e4" stroke-width="0.5" />
<line x1="519.3" y1="124.6" x2="519.3" y2="226.6" stroke="#e4e4e4" stroke-width="0.5" />
<line x1="429.6" y1="148" x2="545.4" y2="148" stroke="#e4e4e4" stroke-width="0.5" />
<line x1="540.2" y1="124.6" x2="540.2" y2="226.6" stroke="#e4e4e4" stroke-width="0.5" />
<line x1="429.6" y1="129.5" x2="545.4" y2="129.5" stroke="#e4e4e4" stroke-width="0.5" />
<line x1="429.6" y1="226.6" x2="545.4" y2="124.6" stroke="#555" stroke-width="0.55" />
<path d="M434.5,221.5 L434.5,188 L435.9,188 L435.9,181.5 L436.8,181.5 L436.8,162.3 L443.3,162.3 L443.3,156.3 L444.7,156.3 L444.7,142.9 L473.2,142.9 L473.2,136.4 L490.2,136.4 L490.2,129.6 L540.2,129.6" stroke="#e9a6c6" stroke-width="0.9" fill="none" />
<rect x="429.6" y="124.6" width="115.8" height="102" rx="0" fill="none" stroke="#adadad" stroke-width="1" />
<text x="426.6" y="223.62" font-size="4.5" fill="#333" font-weight="bold" text-anchor="end" stroke="#333" stroke-width="0.08" >0.0</text>
<text x="435.7" y="231.62" font-size="4.5" fill="#333" font-weight="bold" text-anchor="middle" stroke="#333" stroke-width="0.08" >0.0</text>
<text x="426.6" y="205.12" font-size="4.5" fill="#333" font-weight="bold" text-anchor="end" stroke="#333" stroke-width="0.08" >0.2</text>
<text x="456.6" y="231.62" font-size="4.5" fill="#333" font-weight="bold" text-anchor="middle" stroke="#333" stroke-width="0.08" >0.2</text>
<text x="426.6" y="186.62" font-size="4.5" fill="#333" font-weight="bold" text-anchor="end" stroke="#333" stroke-width="0.08" >0.4</text>
<text x="477.5" y="231.62" font-size="4.5" fill="#333" font-weight="bold" text-anchor="middle" stroke="#333" stroke-width="0.08" >0.4</text>
<text x="426.6" y="168.12" font-size="4.5" fill="#333" font-weight="bold" text-anchor="end" stroke="#333" stroke-width="0.08" >0.6</text>
<text x="498.4" y="231.62" font-size="4.5" fill="#333" font-weight="bold" text-anchor="middle" stroke="#333" stroke-width="0.08" >0.6</text>
<text x="426.6" y="149.62" font-size="4.5" fill="#333" font-weight="bold" text-anchor="end" stroke="#333" stroke-width="0.08" >0.8</text>
<text x="519.3" y="231.62" font-size="4.5" fill="#333" font-weight="bold" text-anchor="middle" stroke="#333" stroke-width="0.08" >0.8</text>
<text x="426.6" y="131.12" font-size="4.5" fill="#333" font-weight="bold" text-anchor="end" stroke="#333" stroke-width="0.08" >1.0</text>
<text x="540.2" y="231.62" font-size="4.5" fill="#333" font-weight="bold" text-anchor="middle" stroke="#333" stroke-width="0.08" >1.0</text>
<text x="0" y="0" font-size="4.2" font-weight="bold" fill="#333" stroke="#333" stroke-width="0.1" transform="translate(420,179.1) rotate(-90)" text-anchor="middle" textLength="29.6" lengthAdjust="spacingAndGlyphs">True Positive Rate</text>
<text x="487.5" y="236.42" font-size="4.5" fill="#333" font-weight="bold" text-anchor="middle" textLength="36" lengthAdjust="spacingAndGlyphs" stroke="#333" stroke-width="0.08" >False Positive Rate</text>
<line x1="454.7" y1="220.7" x2="462.6" y2="220.7" stroke="#e9a6c6" stroke-width="0.9" />
<text x="465.1" y="222.28" font-size="4.4" fill="#333" font-weight="bold" textLength="76.6" lengthAdjust="spacingAndGlyphs" stroke="#333" stroke-width="0.07" >&quot;RF+SVM+MLP+SGD+GB&quot; (Area = 0.91)</text>
<text x="5" y="187.56" font-size="11" fill="#222222" stroke="#222222" stroke-width="0.12" >c</text>
<rect x="38.8" y="186.7" width="3.6" height="20.8" rx="0" fill="#9d9d9d" stroke="none" stroke-width="0.6" />
<rect x="44.31" y="186.7" width="3.6" height="20.8" rx="0" fill="#9d9d9d" stroke="none" stroke-width="0.6" />
<rect x="49.82" y="198.9" width="3.6" height="8.6" rx="0" fill="#9d9d9d" stroke="none" stroke-width="0.6" />
<rect x="55.33" y="192.9" width="3.6" height="14.6" rx="0" fill="#9d9d9d" stroke="none" stroke-width="0.6" />
<rect x="60.84" y="180.8" width="3.6" height="26.7" rx="0" fill="#55be86" stroke="none" stroke-width="0.6" />
<rect x="66.35" y="198.9" width="3.6" height="8.6" rx="0" fill="#9d9d9d" stroke="none" stroke-width="0.6" />
<rect x="71.86" y="189.8" width="3.6" height="17.7" rx="0" fill="#9d9d9d" stroke="none" stroke-width="0.6" />
<rect x="77.37" y="198.9" width="3.6" height="8.6" rx="0" fill="#9d9d9d" stroke="none" stroke-width="0.6" />
<rect x="82.88" y="189.8" width="3.6" height="17.7" rx="0" fill="#9d9d9d" stroke="none" stroke-width="0.6" />
<rect x="88.39" y="202" width="3.6" height="5.5" rx="0" fill="#9d9d9d" stroke="none" stroke-width="0.6" />
<line x1="37" y1="176.9" x2="37" y2="207.5" stroke="#222" stroke-width="0.8" />
<line x1="37" y1="207.5" x2="93.4" y2="207.5" stroke="#222" stroke-width="0.8" />
<line x1="35.8" y1="177.4" x2="37" y2="177.4" stroke="#333" stroke-width="0.4" />
<line x1="35.8" y1="192.45" x2="37" y2="192.45" stroke="#333" stroke-width="0.4" />
<line x1="35.8" y1="207.5" x2="37" y2="207.5" stroke="#333" stroke-width="0.4" />
<text x="35.2" y="178.48" font-size="3" fill="#3a3a3a" font-weight="bold" text-anchor="end" textLength="4.8" lengthAdjust="spacingAndGlyphs" stroke="#3a3a3a" stroke-width="0.12" >0.95</text>
<text x="35.2" y="193.53" font-size="3" fill="#3a3a3a" font-weight="bold" text-anchor="end" textLength="4.8" lengthAdjust="spacingAndGlyphs" stroke="#3a3a3a" stroke-width="0.12" >0.90</text>
<text x="35.2" y="208.58" font-size="3" fill="#3a3a3a" font-weight="bold" text-anchor="end" textLength="4.8" lengthAdjust="spacingAndGlyphs" stroke="#3a3a3a" stroke-width="0.12" >0.85</text>
<line x1="40.6" y1="207.5" x2="40.6" y2="208.5" stroke="#333" stroke-width="0.4" />
<line x1="41.4" y1="210.9" x2="38.15" y2="214.15" stroke="#6e6e6e" stroke-width="1.4"/>
<line x1="46.11" y1="207.5" x2="46.11" y2="208.5" stroke="#333" stroke-width="0.4" />
<line x1="46.91" y1="210.9" x2="43.66" y2="214.15" stroke="#6e6e6e" stroke-width="1.4"/>
<line x1="51.62" y1="207.5" x2="51.62" y2="208.5" stroke="#333" stroke-width="0.4" />
<line x1="52.42" y1="210.9" x2="49.17" y2="214.15" stroke="#6e6e6e" stroke-width="1.4"/>
<line x1="57.13" y1="207.5" x2="57.13" y2="208.5" stroke="#333" stroke-width="0.4" />
<line x1="57.93" y1="210.9" x2="54.68" y2="214.15" stroke="#6e6e6e" stroke-width="1.4"/>
<line x1="62.64" y1="207.5" x2="62.64" y2="208.5" stroke="#333" stroke-width="0.4" />
<line x1="63.44" y1="210.9" x2="60.19" y2="214.15" stroke="#6e6e6e" stroke-width="1.4"/>
<line x1="68.15" y1="207.5" x2="68.15" y2="208.5" stroke="#333" stroke-width="0.4" />
<line x1="68.95" y1="210.9" x2="65.7" y2="214.15" stroke="#6e6e6e" stroke-width="1.4"/>
<line x1="73.66" y1="207.5" x2="73.66" y2="208.5" stroke="#333" stroke-width="0.4" />
<line x1="74.46" y1="210.9" x2="71.21" y2="214.15" stroke="#6e6e6e" stroke-width="1.4"/>
<line x1="79.17" y1="207.5" x2="79.17" y2="208.5" stroke="#333" stroke-width="0.4" />
<line x1="79.97" y1="210.9" x2="76.72" y2="214.15" stroke="#6e6e6e" stroke-width="1.4"/>
<line x1="84.68" y1="207.5" x2="84.68" y2="208.5" stroke="#333" stroke-width="0.4" />
<line x1="85.48" y1="210.9" x2="82.23" y2="214.15" stroke="#6e6e6e" stroke-width="1.4"/>
<line x1="90.19" y1="207.5" x2="90.19" y2="208.5" stroke="#333" stroke-width="0.4" />
<line x1="90.99" y1="210.9" x2="87.74" y2="214.15" stroke="#6e6e6e" stroke-width="1.4"/>
<text x="0" y="0" font-size="3.6" font-weight="bold" fill="#444" stroke="#444" stroke-width="0.1" transform="translate(27.4,192.45) rotate(-90)" text-anchor="middle">ROC</text>
<rect x="108.2" y="183.9" width="3.7" height="23.6" rx="0" fill="#28aae2" stroke="none" stroke-width="0.6" />
<rect x="113.84" y="192.9" width="3.7" height="14.6" rx="0" fill="#9d9d9d" stroke="none" stroke-width="0.6" />
<rect x="119.48" y="189.8" width="3.7" height="17.7" rx="0" fill="#9d9d9d" stroke="none" stroke-width="0.6" />
<rect x="125.12" y="192.9" width="3.7" height="14.6" rx="0" fill="#9d9d9d" stroke="none" stroke-width="0.6" />
<rect x="130.76" y="189.8" width="3.7" height="17.7" rx="0" fill="#9d9d9d" stroke="none" stroke-width="0.6" />
<rect x="136.4" y="196" width="3.7" height="11.5" rx="0" fill="#9d9d9d" stroke="none" stroke-width="0.6" />
<rect x="142.04" y="189.8" width="3.7" height="17.7" rx="0" fill="#9d9d9d" stroke="none" stroke-width="0.6" />
<rect x="147.68" y="186.7" width="3.7" height="20.8" rx="0" fill="#9d9d9d" stroke="none" stroke-width="0.6" />
<rect x="153.32" y="192.9" width="3.7" height="14.6" rx="0" fill="#9d9d9d" stroke="none" stroke-width="0.6" />
<rect x="158.96" y="196" width="3.7" height="11.5" rx="0" fill="#9d9d9d" stroke="none" stroke-width="0.6" />
<line x1="106.2" y1="176.9" x2="106.2" y2="207.5" stroke="#222" stroke-width="0.8" />
<line x1="106.2" y1="207.5" x2="164.9" y2="207.5" stroke="#222" stroke-width="0.8" />
<line x1="105" y1="177.4" x2="106.2" y2="177.4" stroke="#333" stroke-width="0.4" />
<line x1="105" y1="192.45" x2="106.2" y2="192.45" stroke="#333" stroke-width="0.4" />
<line x1="105" y1="207.5" x2="106.2" y2="207.5" stroke="#333" stroke-width="0.4" />
<text x="104.4" y="178.48" font-size="3" fill="#3a3a3a" font-weight="bold" text-anchor="end" textLength="4.8" lengthAdjust="spacingAndGlyphs" stroke="#3a3a3a" stroke-width="0.12" >0.95</text>
<text x="104.4" y="193.53" font-size="3" fill="#3a3a3a" font-weight="bold" text-anchor="end" textLength="4.8" lengthAdjust="spacingAndGlyphs" stroke="#3a3a3a" stroke-width="0.12" >0.90</text>
<text x="104.4" y="208.58" font-size="3" fill="#3a3a3a" font-weight="bold" text-anchor="end" textLength="4.8" lengthAdjust="spacingAndGlyphs" stroke="#3a3a3a" stroke-width="0.12" >0.85</text>
<line x1="110.05" y1="207.5" x2="110.05" y2="208.5" stroke="#333" stroke-width="0.4" />
<line x1="110.85" y1="210.9" x2="106.04" y2="215.71" stroke="#6e6e6e" stroke-width="1.4"/>
<line x1="115.69" y1="207.5" x2="115.69" y2="208.5" stroke="#333" stroke-width="0.4" />
<line x1="116.49" y1="210.9" x2="111.68" y2="215.71" stroke="#6e6e6e" stroke-width="1.4"/>
<line x1="121.33" y1="207.5" x2="121.33" y2="208.5" stroke="#333" stroke-width="0.4" />
<line x1="122.13" y1="210.9" x2="117.32" y2="215.71" stroke="#6e6e6e" stroke-width="1.4"/>
<line x1="126.97" y1="207.5" x2="126.97" y2="208.5" stroke="#333" stroke-width="0.4" />
<line x1="127.77" y1="210.9" x2="122.96" y2="215.71" stroke="#6e6e6e" stroke-width="1.4"/>
<line x1="132.61" y1="207.5" x2="132.61" y2="208.5" stroke="#333" stroke-width="0.4" />
<line x1="133.41" y1="210.9" x2="128.6" y2="215.71" stroke="#6e6e6e" stroke-width="1.4"/>
<line x1="138.25" y1="207.5" x2="138.25" y2="208.5" stroke="#333" stroke-width="0.4" />
<line x1="139.05" y1="210.9" x2="134.24" y2="215.71" stroke="#6e6e6e" stroke-width="1.4"/>
<line x1="143.89" y1="207.5" x2="143.89" y2="208.5" stroke="#333" stroke-width="0.4" />
<line x1="144.69" y1="210.9" x2="139.88" y2="215.71" stroke="#6e6e6e" stroke-width="1.4"/>
<line x1="149.53" y1="207.5" x2="149.53" y2="208.5" stroke="#333" stroke-width="0.4" />
<line x1="150.33" y1="210.9" x2="145.52" y2="215.71" stroke="#6e6e6e" stroke-width="1.4"/>
<line x1="155.17" y1="207.5" x2="155.17" y2="208.5" stroke="#333" stroke-width="0.4" />
<line x1="155.97" y1="210.9" x2="151.16" y2="215.71" stroke="#6e6e6e" stroke-width="1.4"/>
<line x1="160.81" y1="207.5" x2="160.81" y2="208.5" stroke="#333" stroke-width="0.4" />
<line x1="161.61" y1="210.9" x2="156.8" y2="215.71" stroke="#6e6e6e" stroke-width="1.4"/>
<text x="0" y="0" font-size="3.6" font-weight="bold" fill="#444" stroke="#444" stroke-width="0.1" transform="translate(96.6,192.45) rotate(-90)" text-anchor="middle">ROC</text>
<rect x="182.4" y="189.8" width="4.3" height="17.7" rx="0" fill="#9d9d9d" stroke="none" stroke-width="0.6" />
<rect x="188.95" y="186.7" width="4.3" height="20.8" rx="0" fill="#e8994f" stroke="none" stroke-width="0.6" />
<rect x="195.5" y="189.8" width="4.3" height="17.7" rx="0" fill="#9d9d9d" stroke="none" stroke-width="0.6" />
<rect x="202.05" y="189.8" width="4.3" height="17.7" rx="0" fill="#9d9d9d" stroke="none" stroke-width="0.6" />
<rect x="208.6" y="192.9" width="4.3" height="14.6" rx="0" fill="#9d9d9d" stroke="none" stroke-width="0.6" />
<line x1="180" y1="176.9" x2="180" y2="207.5" stroke="#222" stroke-width="0.8" />
<line x1="180" y1="207.5" x2="214.8" y2="207.5" stroke="#222" stroke-width="0.8" />
<line x1="178.8" y1="177.4" x2="180" y2="177.4" stroke="#333" stroke-width="0.4" />
<line x1="178.8" y1="192.45" x2="180" y2="192.45" stroke="#333" stroke-width="0.4" />
<line x1="178.8" y1="207.5" x2="180" y2="207.5" stroke="#333" stroke-width="0.4" />
<text x="178.2" y="178.48" font-size="3" fill="#3a3a3a" font-weight="bold" text-anchor="end" textLength="4.8" lengthAdjust="spacingAndGlyphs" stroke="#3a3a3a" stroke-width="0.12" >0.95</text>
<text x="178.2" y="193.53" font-size="3" fill="#3a3a3a" font-weight="bold" text-anchor="end" textLength="4.8" lengthAdjust="spacingAndGlyphs" stroke="#3a3a3a" stroke-width="0.12" >0.90</text>
<text x="178.2" y="208.58" font-size="3" fill="#3a3a3a" font-weight="bold" text-anchor="end" textLength="4.8" lengthAdjust="spacingAndGlyphs" stroke="#3a3a3a" stroke-width="0.12" >0.85</text>
<line x1="184.55" y1="207.5" x2="184.55" y2="208.5" stroke="#333" stroke-width="0.4" />
<line x1="185.35" y1="210.9" x2="179.48" y2="216.77" stroke="#6e6e6e" stroke-width="1.4"/>
<line x1="191.1" y1="207.5" x2="191.1" y2="208.5" stroke="#333" stroke-width="0.4" />
<line x1="191.9" y1="210.9" x2="186.03" y2="216.77" stroke="#6e6e6e" stroke-width="1.4"/>
<line x1="197.65" y1="207.5" x2="197.65" y2="208.5" stroke="#333" stroke-width="0.4" />
<line x1="198.45" y1="210.9" x2="192.58" y2="216.77" stroke="#6e6e6e" stroke-width="1.4"/>
<line x1="204.2" y1="207.5" x2="204.2" y2="208.5" stroke="#333" stroke-width="0.4" />
<line x1="205" y1="210.9" x2="199.13" y2="216.77" stroke="#6e6e6e" stroke-width="1.4"/>
<line x1="210.75" y1="207.5" x2="210.75" y2="208.5" stroke="#333" stroke-width="0.4" />
<line x1="211.55" y1="210.9" x2="205.68" y2="216.77" stroke="#6e6e6e" stroke-width="1.4"/>
<text x="0" y="0" font-size="3.6" font-weight="bold" fill="#444" stroke="#444" stroke-width="0.1" transform="translate(170.4,192.45) rotate(-90)" text-anchor="middle">ROC</text>
<rect x="231.8" y="189.8" width="4.3" height="17.7" rx="0" fill="#d9a2c3" stroke="none" stroke-width="0.6" />
<line x1="229.5" y1="176.9" x2="229.5" y2="207.5" stroke="#222" stroke-width="0.8" />
<line x1="229.5" y1="207.5" x2="238" y2="207.5" stroke="#222" stroke-width="0.8" />
<line x1="228.3" y1="177.4" x2="229.5" y2="177.4" stroke="#333" stroke-width="0.4" />
<line x1="228.3" y1="192.45" x2="229.5" y2="192.45" stroke="#333" stroke-width="0.4" />
<line x1="228.3" y1="207.5" x2="229.5" y2="207.5" stroke="#333" stroke-width="0.4" />
<text x="227.7" y="178.48" font-size="3" fill="#3a3a3a" font-weight="bold" text-anchor="end" textLength="4.8" lengthAdjust="spacingAndGlyphs" stroke="#3a3a3a" stroke-width="0.12" >0.95</text>
<text x="227.7" y="193.53" font-size="3" fill="#3a3a3a" font-weight="bold" text-anchor="end" textLength="4.8" lengthAdjust="spacingAndGlyphs" stroke="#3a3a3a" stroke-width="0.12" >0.90</text>
<text x="227.7" y="208.58" font-size="3" fill="#3a3a3a" font-weight="bold" text-anchor="end" textLength="4.8" lengthAdjust="spacingAndGlyphs" stroke="#3a3a3a" stroke-width="0.12" >0.85</text>
<line x1="233.95" y1="207.5" x2="233.95" y2="208.5" stroke="#333" stroke-width="0.4" />
<line x1="234.75" y1="210.9" x2="227.68" y2="217.97" stroke="#6e6e6e" stroke-width="1.4"/>
<text x="0" y="0" font-size="3.6" font-weight="bold" fill="#444" stroke="#444" stroke-width="0.1" transform="translate(219.9,192.45) rotate(-90)" text-anchor="middle">ROC</text>
<line x1="30" y1="183.9" x2="232.5" y2="183.9" stroke="#f05050" stroke-width="0.75" stroke-dasharray="2.2,1.3,0.7,1.3"/>
<text x="234.9" y="186.13" font-size="4.8" fill="#222222" font-weight="bold" textLength="12" lengthAdjust="spacingAndGlyphs" stroke="#222222" stroke-width="0.08" >0.925</text>
<rect x="38" y="239.8" width="3.4" height="16" rx="0" fill="#9d9d9d" stroke="none" stroke-width="0.6" />
<rect x="43.55" y="233.9" width="3.4" height="21.9" rx="0" fill="#9d9d9d" stroke="none" stroke-width="0.6" />
<rect x="49.1" y="252.1" width="3.4" height="3.7" rx="0" fill="#9d9d9d" stroke="none" stroke-width="0.6" />
<rect x="54.65" y="239.8" width="3.4" height="16" rx="0" fill="#9d9d9d" stroke="none" stroke-width="0.6" />
<rect x="60.2" y="233.9" width="3.4" height="21.9" rx="0" fill="#9d9d9d" stroke="none" stroke-width="0.6" />
<rect x="65.75" y="252.1" width="3.4" height="3.7" rx="0" fill="#9d9d9d" stroke="none" stroke-width="0.6" />
<rect x="71.3" y="233.9" width="3.4" height="21.9" rx="0" fill="#9d9d9d" stroke="none" stroke-width="0.6" />
<rect x="76.85" y="233.9" width="3.4" height="21.9" rx="0" fill="#9d9d9d" stroke="none" stroke-width="0.6" />
<rect x="82.4" y="233.9" width="3.4" height="21.9" rx="0" fill="#9d9d9d" stroke="none" stroke-width="0.6" />
<rect x="87.95" y="252.1" width="3.4" height="3.7" rx="0" fill="#9d9d9d" stroke="none" stroke-width="0.6" />
<line x1="34.7" y1="224.9" x2="34.7" y2="255.8" stroke="#222" stroke-width="0.8" />
<line x1="34.7" y1="255.8" x2="92.6" y2="255.8" stroke="#222" stroke-width="0.8" />
<line x1="33.5" y1="225.4" x2="34.7" y2="225.4" stroke="#333" stroke-width="0.4" />
<line x1="33.5" y1="229.74" x2="34.7" y2="229.74" stroke="#333" stroke-width="0.4" />
<line x1="33.5" y1="234.09" x2="34.7" y2="234.09" stroke="#333" stroke-width="0.4" />
<line x1="33.5" y1="238.43" x2="34.7" y2="238.43" stroke="#333" stroke-width="0.4" />
<line x1="33.5" y1="242.77" x2="34.7" y2="242.77" stroke="#333" stroke-width="0.4" />
<line x1="33.5" y1="247.11" x2="34.7" y2="247.11" stroke="#333" stroke-width="0.4" />
<line x1="33.5" y1="251.46" x2="34.7" y2="251.46" stroke="#333" stroke-width="0.4" />
<line x1="33.5" y1="255.8" x2="34.7" y2="255.8" stroke="#333" stroke-width="0.4" />
<text x="32.9" y="226.48" font-size="3" fill="#3a3a3a" font-weight="bold" text-anchor="end" textLength="3.4" lengthAdjust="spacingAndGlyphs" stroke="#3a3a3a" stroke-width="0.12" >95</text>
<text x="32.9" y="230.82" font-size="3" fill="#3a3a3a" font-weight="bold" text-anchor="end" textLength="3.4" lengthAdjust="spacingAndGlyphs" stroke="#3a3a3a" stroke-width="0.12" >90</text>
<text x="32.9" y="235.17" font-size="3" fill="#3a3a3a" font-weight="bold" text-anchor="end" textLength="3.4" lengthAdjust="spacingAndGlyphs" stroke="#3a3a3a" stroke-width="0.12" >85</text>
<text x="32.9" y="239.51" font-size="3" fill="#3a3a3a" font-weight="bold" text-anchor="end" textLength="3.4" lengthAdjust="spacingAndGlyphs" stroke="#3a3a3a" stroke-width="0.12" >80</text>
<text x="32.9" y="243.85" font-size="3" fill="#3a3a3a" font-weight="bold" text-anchor="end" textLength="3.4" lengthAdjust="spacingAndGlyphs" stroke="#3a3a3a" stroke-width="0.12" >75</text>
<text x="32.9" y="248.19" font-size="3" fill="#3a3a3a" font-weight="bold" text-anchor="end" textLength="3.4" lengthAdjust="spacingAndGlyphs" stroke="#3a3a3a" stroke-width="0.12" >70</text>
<text x="32.9" y="252.54" font-size="3" fill="#3a3a3a" font-weight="bold" text-anchor="end" textLength="3.4" lengthAdjust="spacingAndGlyphs" stroke="#3a3a3a" stroke-width="0.12" >65</text>
<text x="32.9" y="256.88" font-size="3" fill="#3a3a3a" font-weight="bold" text-anchor="end" textLength="3.4" lengthAdjust="spacingAndGlyphs" stroke="#3a3a3a" stroke-width="0.12" >60</text>
<line x1="39.7" y1="255.8" x2="39.7" y2="256.8" stroke="#333" stroke-width="0.4" />
<line x1="40.5" y1="259.2" x2="37.25" y2="262.45" stroke="#6e6e6e" stroke-width="1.4"/>
<line x1="45.25" y1="255.8" x2="45.25" y2="256.8" stroke="#333" stroke-width="0.4" />
<line x1="46.05" y1="259.2" x2="42.8" y2="262.45" stroke="#6e6e6e" stroke-width="1.4"/>
<line x1="50.8" y1="255.8" x2="50.8" y2="256.8" stroke="#333" stroke-width="0.4" />
<line x1="51.6" y1="259.2" x2="48.35" y2="262.45" stroke="#6e6e6e" stroke-width="1.4"/>
<line x1="56.35" y1="255.8" x2="56.35" y2="256.8" stroke="#333" stroke-width="0.4" />
<line x1="57.15" y1="259.2" x2="53.9" y2="262.45" stroke="#6e6e6e" stroke-width="1.4"/>
<line x1="61.9" y1="255.8" x2="61.9" y2="256.8" stroke="#333" stroke-width="0.4" />
<line x1="62.7" y1="259.2" x2="59.45" y2="262.45" stroke="#6e6e6e" stroke-width="1.4"/>
<line x1="67.45" y1="255.8" x2="67.45" y2="256.8" stroke="#333" stroke-width="0.4" />
<line x1="68.25" y1="259.2" x2="65" y2="262.45" stroke="#6e6e6e" stroke-width="1.4"/>
<line x1="73" y1="255.8" x2="73" y2="256.8" stroke="#333" stroke-width="0.4" />
<line x1="73.8" y1="259.2" x2="70.55" y2="262.45" stroke="#6e6e6e" stroke-width="1.4"/>
<line x1="78.55" y1="255.8" x2="78.55" y2="256.8" stroke="#333" stroke-width="0.4" />
<line x1="79.35" y1="259.2" x2="76.1" y2="262.45" stroke="#6e6e6e" stroke-width="1.4"/>
<line x1="84.1" y1="255.8" x2="84.1" y2="256.8" stroke="#333" stroke-width="0.4" />
<line x1="84.9" y1="259.2" x2="81.65" y2="262.45" stroke="#6e6e6e" stroke-width="1.4"/>
<line x1="89.65" y1="255.8" x2="89.65" y2="256.8" stroke="#333" stroke-width="0.4" />
<line x1="90.45" y1="259.2" x2="87.2" y2="262.45" stroke="#6e6e6e" stroke-width="1.4"/>
<text x="0" y="0" font-size="3.6" font-weight="bold" fill="#444" stroke="#444" stroke-width="0.1" transform="translate(25.1,240.6) rotate(-90)" text-anchor="middle">ACC</text>
<rect x="107" y="228" width="3.6" height="27.8" rx="0" fill="#28aae2" stroke="none" stroke-width="0.6" />
<rect x="112.6" y="252.4" width="3.6" height="3.4" rx="0" fill="#9d9d9d" stroke="none" stroke-width="0.6" />
<rect x="118.2" y="239.8" width="3.6" height="16" rx="0" fill="#9d9d9d" stroke="none" stroke-width="0.6" />
<rect x="123.8" y="233.9" width="3.6" height="21.9" rx="0" fill="#9d9d9d" stroke="none" stroke-width="0.6" />
<rect x="129.4" y="233.9" width="3.6" height="21.9" rx="0" fill="#9d9d9d" stroke="none" stroke-width="0.6" />
<rect x="135" y="252.4" width="3.6" height="3.4" rx="0" fill="#9d9d9d" stroke="none" stroke-width="0.6" />
<rect x="140.6" y="233.9" width="3.6" height="21.9" rx="0" fill="#9d9d9d" stroke="none" stroke-width="0.6" />
<rect x="146.2" y="233.9" width="3.6" height="21.9" rx="0" fill="#9d9d9d" stroke="none" stroke-width="0.6" />
<rect x="151.8" y="252.4" width="3.6" height="3.4" rx="0" fill="#9d9d9d" stroke="none" stroke-width="0.6" />
<rect x="157.4" y="239.8" width="3.6" height="16" rx="0" fill="#9d9d9d" stroke="none" stroke-width="0.6" />
<line x1="105.4" y1="224.9" x2="105.4" y2="255.8" stroke="#222" stroke-width="0.8" />
<line x1="105.4" y1="255.8" x2="162.9" y2="255.8" stroke="#222" stroke-width="0.8" />
<line x1="104.2" y1="225.4" x2="105.4" y2="225.4" stroke="#333" stroke-width="0.4" />
<line x1="104.2" y1="229.74" x2="105.4" y2="229.74" stroke="#333" stroke-width="0.4" />
<line x1="104.2" y1="234.09" x2="105.4" y2="234.09" stroke="#333" stroke-width="0.4" />
<line x1="104.2" y1="238.43" x2="105.4" y2="238.43" stroke="#333" stroke-width="0.4" />
<line x1="104.2" y1="242.77" x2="105.4" y2="242.77" stroke="#333" stroke-width="0.4" />
<line x1="104.2" y1="247.11" x2="105.4" y2="247.11" stroke="#333" stroke-width="0.4" />
<line x1="104.2" y1="251.46" x2="105.4" y2="251.46" stroke="#333" stroke-width="0.4" />
<line x1="104.2" y1="255.8" x2="105.4" y2="255.8" stroke="#333" stroke-width="0.4" />
<text x="103.6" y="226.48" font-size="3" fill="#3a3a3a" font-weight="bold" text-anchor="end" textLength="3.4" lengthAdjust="spacingAndGlyphs" stroke="#3a3a3a" stroke-width="0.12" >95</text>
<text x="103.6" y="230.82" font-size="3" fill="#3a3a3a" font-weight="bold" text-anchor="end" textLength="3.4" lengthAdjust="spacingAndGlyphs" stroke="#3a3a3a" stroke-width="0.12" >90</text>
<text x="103.6" y="235.17" font-size="3" fill="#3a3a3a" font-weight="bold" text-anchor="end" textLength="3.4" lengthAdjust="spacingAndGlyphs" stroke="#3a3a3a" stroke-width="0.12" >85</text>
<text x="103.6" y="239.51" font-size="3" fill="#3a3a3a" font-weight="bold" text-anchor="end" textLength="3.4" lengthAdjust="spacingAndGlyphs" stroke="#3a3a3a" stroke-width="0.12" >80</text>
<text x="103.6" y="243.85" font-size="3" fill="#3a3a3a" font-weight="bold" text-anchor="end" textLength="3.4" lengthAdjust="spacingAndGlyphs" stroke="#3a3a3a" stroke-width="0.12" >75</text>
<text x="103.6" y="248.19" font-size="3" fill="#3a3a3a" font-weight="bold" text-anchor="end" textLength="3.4" lengthAdjust="spacingAndGlyphs" stroke="#3a3a3a" stroke-width="0.12" >70</text>
<text x="103.6" y="252.54" font-size="3" fill="#3a3a3a" font-weight="bold" text-anchor="end" textLength="3.4" lengthAdjust="spacingAndGlyphs" stroke="#3a3a3a" stroke-width="0.12" >65</text>
<text x="103.6" y="256.88" font-size="3" fill="#3a3a3a" font-weight="bold" text-anchor="end" textLength="3.4" lengthAdjust="spacingAndGlyphs" stroke="#3a3a3a" stroke-width="0.12" >60</text>
<line x1="108.8" y1="255.8" x2="108.8" y2="256.8" stroke="#333" stroke-width="0.4" />
<line x1="109.6" y1="259.2" x2="104.79" y2="264.01" stroke="#6e6e6e" stroke-width="1.4"/>
<line x1="114.4" y1="255.8" x2="114.4" y2="256.8" stroke="#333" stroke-width="0.4" />
<line x1="115.2" y1="259.2" x2="110.39" y2="264.01" stroke="#6e6e6e" stroke-width="1.4"/>
<line x1="120" y1="255.8" x2="120" y2="256.8" stroke="#333" stroke-width="0.4" />
<line x1="120.8" y1="259.2" x2="115.99" y2="264.01" stroke="#6e6e6e" stroke-width="1.4"/>
<line x1="125.6" y1="255.8" x2="125.6" y2="256.8" stroke="#333" stroke-width="0.4" />
<line x1="126.4" y1="259.2" x2="121.59" y2="264.01" stroke="#6e6e6e" stroke-width="1.4"/>
<line x1="131.2" y1="255.8" x2="131.2" y2="256.8" stroke="#333" stroke-width="0.4" />
<line x1="132" y1="259.2" x2="127.19" y2="264.01" stroke="#6e6e6e" stroke-width="1.4"/>
<line x1="136.8" y1="255.8" x2="136.8" y2="256.8" stroke="#333" stroke-width="0.4" />
<line x1="137.6" y1="259.2" x2="132.79" y2="264.01" stroke="#6e6e6e" stroke-width="1.4"/>
<line x1="142.4" y1="255.8" x2="142.4" y2="256.8" stroke="#333" stroke-width="0.4" />
<line x1="143.2" y1="259.2" x2="138.39" y2="264.01" stroke="#6e6e6e" stroke-width="1.4"/>
<line x1="148" y1="255.8" x2="148" y2="256.8" stroke="#333" stroke-width="0.4" />
<line x1="148.8" y1="259.2" x2="143.99" y2="264.01" stroke="#6e6e6e" stroke-width="1.4"/>
<line x1="153.6" y1="255.8" x2="153.6" y2="256.8" stroke="#333" stroke-width="0.4" />
<line x1="154.4" y1="259.2" x2="149.59" y2="264.01" stroke="#6e6e6e" stroke-width="1.4"/>
<line x1="159.2" y1="255.8" x2="159.2" y2="256.8" stroke="#333" stroke-width="0.4" />
<line x1="160" y1="259.2" x2="155.19" y2="264.01" stroke="#6e6e6e" stroke-width="1.4"/>
<text x="0" y="0" font-size="3.6" font-weight="bold" fill="#444" stroke="#444" stroke-width="0.1" transform="translate(95.8,240.6) rotate(-90)" text-anchor="middle">ACC</text>
<rect x="181.1" y="233.9" width="4.3" height="21.9" rx="0" fill="#9d9d9d" stroke="none" stroke-width="0.6" />
<rect x="187.67" y="233.9" width="4.3" height="21.9" rx="0" fill="#9d9d9d" stroke="none" stroke-width="0.6" />
<rect x="194.24" y="233.9" width="4.3" height="21.9" rx="0" fill="#9d9d9d" stroke="none" stroke-width="0.6" />
<rect x="200.81" y="239.8" width="4.3" height="16" rx="0" fill="#9d9d9d" stroke="none" stroke-width="0.6" />
<rect x="207.38" y="252.4" width="4.3" height="3.4" rx="0" fill="#9d9d9d" stroke="none" stroke-width="0.6" />
<line x1="179.6" y1="224.9" x2="179.6" y2="255.8" stroke="#222" stroke-width="0.8" />
<line x1="179.6" y1="255.8" x2="214.5" y2="255.8" stroke="#222" stroke-width="0.8" />
<line x1="178.4" y1="225.4" x2="179.6" y2="225.4" stroke="#333" stroke-width="0.4" />
<line x1="178.4" y1="229.74" x2="179.6" y2="229.74" stroke="#333" stroke-width="0.4" />
<line x1="178.4" y1="234.09" x2="179.6" y2="234.09" stroke="#333" stroke-width="0.4" />
<line x1="178.4" y1="238.43" x2="179.6" y2="238.43" stroke="#333" stroke-width="0.4" />
<line x1="178.4" y1="242.77" x2="179.6" y2="242.77" stroke="#333" stroke-width="0.4" />
<line x1="178.4" y1="247.11" x2="179.6" y2="247.11" stroke="#333" stroke-width="0.4" />
<line x1="178.4" y1="251.46" x2="179.6" y2="251.46" stroke="#333" stroke-width="0.4" />
<line x1="178.4" y1="255.8" x2="179.6" y2="255.8" stroke="#333" stroke-width="0.4" />
<text x="177.8" y="226.48" font-size="3" fill="#3a3a3a" font-weight="bold" text-anchor="end" textLength="3.4" lengthAdjust="spacingAndGlyphs" stroke="#3a3a3a" stroke-width="0.12" >95</text>
<text x="177.8" y="230.82" font-size="3" fill="#3a3a3a" font-weight="bold" text-anchor="end" textLength="3.4" lengthAdjust="spacingAndGlyphs" stroke="#3a3a3a" stroke-width="0.12" >90</text>
<text x="177.8" y="235.17" font-size="3" fill="#3a3a3a" font-weight="bold" text-anchor="end" textLength="3.4" lengthAdjust="spacingAndGlyphs" stroke="#3a3a3a" stroke-width="0.12" >85</text>
<text x="177.8" y="239.51" font-size="3" fill="#3a3a3a" font-weight="bold" text-anchor="end" textLength="3.4" lengthAdjust="spacingAndGlyphs" stroke="#3a3a3a" stroke-width="0.12" >80</text>
<text x="177.8" y="243.85" font-size="3" fill="#3a3a3a" font-weight="bold" text-anchor="end" textLength="3.4" lengthAdjust="spacingAndGlyphs" stroke="#3a3a3a" stroke-width="0.12" >75</text>
<text x="177.8" y="248.19" font-size="3" fill="#3a3a3a" font-weight="bold" text-anchor="end" textLength="3.4" lengthAdjust="spacingAndGlyphs" stroke="#3a3a3a" stroke-width="0.12" >70</text>
<text x="177.8" y="252.54" font-size="3" fill="#3a3a3a" font-weight="bold" text-anchor="end" textLength="3.4" lengthAdjust="spacingAndGlyphs" stroke="#3a3a3a" stroke-width="0.12" >65</text>
<text x="177.8" y="256.88" font-size="3" fill="#3a3a3a" font-weight="bold" text-anchor="end" textLength="3.4" lengthAdjust="spacingAndGlyphs" stroke="#3a3a3a" stroke-width="0.12" >60</text>
<line x1="183.25" y1="255.8" x2="183.25" y2="256.8" stroke="#333" stroke-width="0.4" />
<line x1="184.05" y1="259.2" x2="178.18" y2="265.07" stroke="#6e6e6e" stroke-width="1.4"/>
<line x1="189.82" y1="255.8" x2="189.82" y2="256.8" stroke="#333" stroke-width="0.4" />
<line x1="190.62" y1="259.2" x2="184.75" y2="265.07" stroke="#6e6e6e" stroke-width="1.4"/>
<line x1="196.39" y1="255.8" x2="196.39" y2="256.8" stroke="#333" stroke-width="0.4" />
<line x1="197.19" y1="259.2" x2="191.32" y2="265.07" stroke="#6e6e6e" stroke-width="1.4"/>
<line x1="202.96" y1="255.8" x2="202.96" y2="256.8" stroke="#333" stroke-width="0.4" />
<line x1="203.76" y1="259.2" x2="197.89" y2="265.07" stroke="#6e6e6e" stroke-width="1.4"/>
<line x1="209.53" y1="255.8" x2="209.53" y2="256.8" stroke="#333" stroke-width="0.4" />
<line x1="210.33" y1="259.2" x2="204.46" y2="265.07" stroke="#6e6e6e" stroke-width="1.4"/>
<text x="0" y="0" font-size="3.6" font-weight="bold" fill="#444" stroke="#444" stroke-width="0.1" transform="translate(170,240.6) rotate(-90)" text-anchor="middle">ACC</text>
<rect x="230.7" y="239.8" width="4.2" height="16" rx="0" fill="#9d9d9d" stroke="none" stroke-width="0.6" />
<line x1="228" y1="224.9" x2="228" y2="255.8" stroke="#222" stroke-width="0.8" />
<line x1="228" y1="255.8" x2="238" y2="255.8" stroke="#222" stroke-width="0.8" />
<line x1="226.8" y1="225.4" x2="228" y2="225.4" stroke="#333" stroke-width="0.4" />
<line x1="226.8" y1="229.74" x2="228" y2="229.74" stroke="#333" stroke-width="0.4" />
<line x1="226.8" y1="234.09" x2="228" y2="234.09" stroke="#333" stroke-width="0.4" />
<line x1="226.8" y1="238.43" x2="228" y2="238.43" stroke="#333" stroke-width="0.4" />
<line x1="226.8" y1="242.77" x2="228" y2="242.77" stroke="#333" stroke-width="0.4" />
<line x1="226.8" y1="247.11" x2="228" y2="247.11" stroke="#333" stroke-width="0.4" />
<line x1="226.8" y1="251.46" x2="228" y2="251.46" stroke="#333" stroke-width="0.4" />
<line x1="226.8" y1="255.8" x2="228" y2="255.8" stroke="#333" stroke-width="0.4" />
<text x="226.2" y="226.48" font-size="3" fill="#3a3a3a" font-weight="bold" text-anchor="end" textLength="3.4" lengthAdjust="spacingAndGlyphs" stroke="#3a3a3a" stroke-width="0.12" >95</text>
<text x="226.2" y="230.82" font-size="3" fill="#3a3a3a" font-weight="bold" text-anchor="end" textLength="3.4" lengthAdjust="spacingAndGlyphs" stroke="#3a3a3a" stroke-width="0.12" >90</text>
<text x="226.2" y="235.17" font-size="3" fill="#3a3a3a" font-weight="bold" text-anchor="end" textLength="3.4" lengthAdjust="spacingAndGlyphs" stroke="#3a3a3a" stroke-width="0.12" >85</text>
<text x="226.2" y="239.51" font-size="3" fill="#3a3a3a" font-weight="bold" text-anchor="end" textLength="3.4" lengthAdjust="spacingAndGlyphs" stroke="#3a3a3a" stroke-width="0.12" >80</text>
<text x="226.2" y="243.85" font-size="3" fill="#3a3a3a" font-weight="bold" text-anchor="end" textLength="3.4" lengthAdjust="spacingAndGlyphs" stroke="#3a3a3a" stroke-width="0.12" >75</text>
<text x="226.2" y="248.19" font-size="3" fill="#3a3a3a" font-weight="bold" text-anchor="end" textLength="3.4" lengthAdjust="spacingAndGlyphs" stroke="#3a3a3a" stroke-width="0.12" >70</text>
<text x="226.2" y="252.54" font-size="3" fill="#3a3a3a" font-weight="bold" text-anchor="end" textLength="3.4" lengthAdjust="spacingAndGlyphs" stroke="#3a3a3a" stroke-width="0.12" >65</text>
<text x="226.2" y="256.88" font-size="3" fill="#3a3a3a" font-weight="bold" text-anchor="end" textLength="3.4" lengthAdjust="spacingAndGlyphs" stroke="#3a3a3a" stroke-width="0.12" >60</text>
<line x1="232.8" y1="255.8" x2="232.8" y2="256.8" stroke="#333" stroke-width="0.4" />
<line x1="233.6" y1="259.2" x2="226.53" y2="266.27" stroke="#6e6e6e" stroke-width="1.4"/>
<text x="0" y="0" font-size="3.6" font-weight="bold" fill="#444" stroke="#444" stroke-width="0.1" transform="translate(218.4,240.6) rotate(-90)" text-anchor="middle">ACC</text>
<line x1="30" y1="228.8" x2="232" y2="228.8" stroke="#f05050" stroke-width="0.75" stroke-dasharray="2.2,1.3,0.7,1.3"/>
<text x="234.9" y="231.33" font-size="4.8" fill="#222222" font-weight="bold" textLength="9.3" lengthAdjust="spacingAndGlyphs" stroke="#222222" stroke-width="0.08" >90%</text>
<rect x="37" y="275" width="3.6" height="27.5" rx="0" fill="#9d9d9d" stroke="none" stroke-width="0.6" />
<rect x="42.67" y="293.6" width="3.6" height="8.9" rx="0" fill="#9d9d9d" stroke="none" stroke-width="0.6" />
<rect x="48.34" y="279.2" width="3.6" height="23.3" rx="0" fill="#9d9d9d" stroke="none" stroke-width="0.6" />
<rect x="54.01" y="291.6" width="3.6" height="10.9" rx="0" fill="#9d9d9d" stroke="none" stroke-width="0.6" />
<rect x="59.68" y="293.6" width="3.6" height="8.9" rx="0" fill="#9d9d9d" stroke="none" stroke-width="0.6" />
<rect x="65.35" y="279.2" width="3.6" height="23.3" rx="0" fill="#9d9d9d" stroke="none" stroke-width="0.6" />
<rect x="71.02" y="293.6" width="3.6" height="8.9" rx="0" fill="#9d9d9d" stroke="none" stroke-width="0.6" />
<rect x="76.69" y="293.6" width="3.6" height="8.9" rx="0" fill="#9d9d9d" stroke="none" stroke-width="0.6" />
<rect x="82.36" y="293.6" width="3.6" height="8.9" rx="0" fill="#9d9d9d" stroke="none" stroke-width="0.6" />
<rect x="88.03" y="288.2" width="3.6" height="14.3" rx="0" fill="#9d9d9d" stroke="none" stroke-width="0.6" />
<line x1="35" y1="271" x2="35" y2="302.5" stroke="#222" stroke-width="0.8" />
<line x1="35" y1="302.5" x2="92.6" y2="302.5" stroke="#222" stroke-width="0.8" />
<line x1="33.8" y1="271.5" x2="35" y2="271.5" stroke="#333" stroke-width="0.4" />
<line x1="33.8" y1="277.7" x2="35" y2="277.7" stroke="#333" stroke-width="0.4" />
<line x1="33.8" y1="283.9" x2="35" y2="283.9" stroke="#333" stroke-width="0.4" />
<line x1="33.8" y1="290.1" x2="35" y2="290.1" stroke="#333" stroke-width="0.4" />
<line x1="33.8" y1="296.3" x2="35" y2="296.3" stroke="#333" stroke-width="0.4" />
<line x1="33.8" y1="302.5" x2="35" y2="302.5" stroke="#333" stroke-width="0.4" />
<text x="33.2" y="272.58" font-size="3" fill="#3a3a3a" font-weight="bold" text-anchor="end" textLength="1.9" lengthAdjust="spacingAndGlyphs" stroke="#3a3a3a" stroke-width="0.12" >5</text>
<text x="33.2" y="278.78" font-size="3" fill="#3a3a3a" font-weight="bold" text-anchor="end" textLength="1.9" lengthAdjust="spacingAndGlyphs" stroke="#3a3a3a" stroke-width="0.12" >4</text>
<text x="33.2" y="284.98" font-size="3" fill="#3a3a3a" font-weight="bold" text-anchor="end" textLength="1.9" lengthAdjust="spacingAndGlyphs" stroke="#3a3a3a" stroke-width="0.12" >3</text>
<text x="33.2" y="291.18" font-size="3" fill="#3a3a3a" font-weight="bold" text-anchor="end" textLength="1.9" lengthAdjust="spacingAndGlyphs" stroke="#3a3a3a" stroke-width="0.12" >2</text>
<text x="33.2" y="297.38" font-size="3" fill="#3a3a3a" font-weight="bold" text-anchor="end" textLength="1.9" lengthAdjust="spacingAndGlyphs" stroke="#3a3a3a" stroke-width="0.12" >1</text>
<text x="33.2" y="303.58" font-size="3" fill="#3a3a3a" font-weight="bold" text-anchor="end" textLength="1.9" lengthAdjust="spacingAndGlyphs" stroke="#3a3a3a" stroke-width="0.12" >0</text>
<line x1="38.8" y1="302.5" x2="38.8" y2="303.5" stroke="#333" stroke-width="0.4" />
<line x1="39.6" y1="305.9" x2="36.35" y2="309.15" stroke="#6e6e6e" stroke-width="1.4"/>
<line x1="44.47" y1="302.5" x2="44.47" y2="303.5" stroke="#333" stroke-width="0.4" />
<line x1="45.27" y1="305.9" x2="42.02" y2="309.15" stroke="#6e6e6e" stroke-width="1.4"/>
<line x1="50.14" y1="302.5" x2="50.14" y2="303.5" stroke="#333" stroke-width="0.4" />
<line x1="50.94" y1="305.9" x2="47.69" y2="309.15" stroke="#6e6e6e" stroke-width="1.4"/>
<line x1="55.81" y1="302.5" x2="55.81" y2="303.5" stroke="#333" stroke-width="0.4" />
<line x1="56.61" y1="305.9" x2="53.36" y2="309.15" stroke="#6e6e6e" stroke-width="1.4"/>
<line x1="61.48" y1="302.5" x2="61.48" y2="303.5" stroke="#333" stroke-width="0.4" />
<line x1="62.28" y1="305.9" x2="59.03" y2="309.15" stroke="#6e6e6e" stroke-width="1.4"/>
<line x1="67.15" y1="302.5" x2="67.15" y2="303.5" stroke="#333" stroke-width="0.4" />
<line x1="67.95" y1="305.9" x2="64.7" y2="309.15" stroke="#6e6e6e" stroke-width="1.4"/>
<line x1="72.82" y1="302.5" x2="72.82" y2="303.5" stroke="#333" stroke-width="0.4" />
<line x1="73.62" y1="305.9" x2="70.37" y2="309.15" stroke="#6e6e6e" stroke-width="1.4"/>
<line x1="78.49" y1="302.5" x2="78.49" y2="303.5" stroke="#333" stroke-width="0.4" />
<line x1="79.29" y1="305.9" x2="76.04" y2="309.15" stroke="#6e6e6e" stroke-width="1.4"/>
<line x1="84.16" y1="302.5" x2="84.16" y2="303.5" stroke="#333" stroke-width="0.4" />
<line x1="84.96" y1="305.9" x2="81.71" y2="309.15" stroke="#6e6e6e" stroke-width="1.4"/>
<line x1="89.83" y1="302.5" x2="89.83" y2="303.5" stroke="#333" stroke-width="0.4" />
<line x1="90.63" y1="305.9" x2="87.38" y2="309.15" stroke="#6e6e6e" stroke-width="1.4"/>
<text x="0" y="0" font-size="3.6" font-weight="bold" fill="#444" stroke="#444" stroke-width="0.1" transform="translate(25.4,287) rotate(-90)" text-anchor="middle">RMSE</text>
<rect x="107" y="295.9" width="3.5" height="6.6" rx="0" fill="#28aae2" stroke="none" stroke-width="0.6" />
<rect x="112.61" y="279.2" width="3.5" height="23.3" rx="0" fill="#9d9d9d" stroke="none" stroke-width="0.6" />
<rect x="118.22" y="291.6" width="3.5" height="10.9" rx="0" fill="#9d9d9d" stroke="none" stroke-width="0.6" />
<rect x="123.83" y="293.6" width="3.5" height="8.9" rx="0" fill="#9d9d9d" stroke="none" stroke-width="0.6" />
<rect x="129.44" y="293.6" width="3.5" height="8.9" rx="0" fill="#9d9d9d" stroke="none" stroke-width="0.6" />
<rect x="135.05" y="288.2" width="3.5" height="14.3" rx="0" fill="#9d9d9d" stroke="none" stroke-width="0.6" />
<rect x="140.66" y="293.6" width="3.5" height="8.9" rx="0" fill="#9d9d9d" stroke="none" stroke-width="0.6" />
<rect x="146.27" y="293.6" width="3.5" height="8.9" rx="0" fill="#9d9d9d" stroke="none" stroke-width="0.6" />
<rect x="151.88" y="288.2" width="3.5" height="14.3" rx="0" fill="#9d9d9d" stroke="none" stroke-width="0.6" />
<rect x="157.49" y="291.6" width="3.5" height="10.9" rx="0" fill="#9d9d9d" stroke="none" stroke-width="0.6" />
<line x1="104.7" y1="271" x2="104.7" y2="302.5" stroke="#222" stroke-width="0.8" />
<line x1="104.7" y1="302.5" x2="163" y2="302.5" stroke="#222" stroke-width="0.8" />
<line x1="103.5" y1="271.5" x2="104.7" y2="271.5" stroke="#333" stroke-width="0.4" />
<line x1="103.5" y1="277.7" x2="104.7" y2="277.7" stroke="#333" stroke-width="0.4" />
<line x1="103.5" y1="283.9" x2="104.7" y2="283.9" stroke="#333" stroke-width="0.4" />
<line x1="103.5" y1="290.1" x2="104.7" y2="290.1" stroke="#333" stroke-width="0.4" />
<line x1="103.5" y1="296.3" x2="104.7" y2="296.3" stroke="#333" stroke-width="0.4" />
<line x1="103.5" y1="302.5" x2="104.7" y2="302.5" stroke="#333" stroke-width="0.4" />
<text x="102.9" y="272.58" font-size="3" fill="#3a3a3a" font-weight="bold" text-anchor="end" textLength="1.9" lengthAdjust="spacingAndGlyphs" stroke="#3a3a3a" stroke-width="0.12" >5</text>
<text x="102.9" y="278.78" font-size="3" fill="#3a3a3a" font-weight="bold" text-anchor="end" textLength="1.9" lengthAdjust="spacingAndGlyphs" stroke="#3a3a3a" stroke-width="0.12" >4</text>
<text x="102.9" y="284.98" font-size="3" fill="#3a3a3a" font-weight="bold" text-anchor="end" textLength="1.9" lengthAdjust="spacingAndGlyphs" stroke="#3a3a3a" stroke-width="0.12" >3</text>
<text x="102.9" y="291.18" font-size="3" fill="#3a3a3a" font-weight="bold" text-anchor="end" textLength="1.9" lengthAdjust="spacingAndGlyphs" stroke="#3a3a3a" stroke-width="0.12" >2</text>
<text x="102.9" y="297.38" font-size="3" fill="#3a3a3a" font-weight="bold" text-anchor="end" textLength="1.9" lengthAdjust="spacingAndGlyphs" stroke="#3a3a3a" stroke-width="0.12" >1</text>
<text x="102.9" y="303.58" font-size="3" fill="#3a3a3a" font-weight="bold" text-anchor="end" textLength="1.9" lengthAdjust="spacingAndGlyphs" stroke="#3a3a3a" stroke-width="0.12" >0</text>
<line x1="108.75" y1="302.5" x2="108.75" y2="303.5" stroke="#333" stroke-width="0.4" />
<line x1="109.55" y1="305.9" x2="104.74" y2="310.71" stroke="#6e6e6e" stroke-width="1.4"/>
<line x1="114.36" y1="302.5" x2="114.36" y2="303.5" stroke="#333" stroke-width="0.4" />
<line x1="115.16" y1="305.9" x2="110.35" y2="310.71" stroke="#6e6e6e" stroke-width="1.4"/>
<line x1="119.97" y1="302.5" x2="119.97" y2="303.5" stroke="#333" stroke-width="0.4" />
<line x1="120.77" y1="305.9" x2="115.96" y2="310.71" stroke="#6e6e6e" stroke-width="1.4"/>
<line x1="125.58" y1="302.5" x2="125.58" y2="303.5" stroke="#333" stroke-width="0.4" />
<line x1="126.38" y1="305.9" x2="121.57" y2="310.71" stroke="#6e6e6e" stroke-width="1.4"/>
<line x1="131.19" y1="302.5" x2="131.19" y2="303.5" stroke="#333" stroke-width="0.4" />
<line x1="131.99" y1="305.9" x2="127.18" y2="310.71" stroke="#6e6e6e" stroke-width="1.4"/>
<line x1="136.8" y1="302.5" x2="136.8" y2="303.5" stroke="#333" stroke-width="0.4" />
<line x1="137.6" y1="305.9" x2="132.79" y2="310.71" stroke="#6e6e6e" stroke-width="1.4"/>
<line x1="142.41" y1="302.5" x2="142.41" y2="303.5" stroke="#333" stroke-width="0.4" />
<line x1="143.21" y1="305.9" x2="138.4" y2="310.71" stroke="#6e6e6e" stroke-width="1.4"/>
<line x1="148.02" y1="302.5" x2="148.02" y2="303.5" stroke="#333" stroke-width="0.4" />
<line x1="148.82" y1="305.9" x2="144.01" y2="310.71" stroke="#6e6e6e" stroke-width="1.4"/>
<line x1="153.63" y1="302.5" x2="153.63" y2="303.5" stroke="#333" stroke-width="0.4" />
<line x1="154.43" y1="305.9" x2="149.62" y2="310.71" stroke="#6e6e6e" stroke-width="1.4"/>
<line x1="159.24" y1="302.5" x2="159.24" y2="303.5" stroke="#333" stroke-width="0.4" />
<line x1="160.04" y1="305.9" x2="155.23" y2="310.71" stroke="#6e6e6e" stroke-width="1.4"/>
<text x="0" y="0" font-size="3.6" font-weight="bold" fill="#444" stroke="#444" stroke-width="0.1" transform="translate(95.1,287) rotate(-90)" text-anchor="middle">RMSE</text>
<rect x="180.8" y="293.6" width="4.2" height="8.9" rx="0" fill="#9d9d9d" stroke="none" stroke-width="0.6" />
<rect x="187.35" y="293.6" width="4.2" height="8.9" rx="0" fill="#9d9d9d" stroke="none" stroke-width="0.6" />
<rect x="193.9" y="293.6" width="4.2" height="8.9" rx="0" fill="#9d9d9d" stroke="none" stroke-width="0.6" />
<rect x="200.45" y="291.6" width="4.2" height="10.9" rx="0" fill="#9d9d9d" stroke="none" stroke-width="0.6" />
<rect x="207" y="288.2" width="4.2" height="14.3" rx="0" fill="#9d9d9d" stroke="none" stroke-width="0.6" />
<line x1="178.5" y1="271" x2="178.5" y2="302.5" stroke="#222" stroke-width="0.8" />
<line x1="178.5" y1="302.5" x2="213.2" y2="302.5" stroke="#222" stroke-width="0.8" />
<line x1="177.3" y1="271.5" x2="178.5" y2="271.5" stroke="#333" stroke-width="0.4" />
<line x1="177.3" y1="277.7" x2="178.5" y2="277.7" stroke="#333" stroke-width="0.4" />
<line x1="177.3" y1="283.9" x2="178.5" y2="283.9" stroke="#333" stroke-width="0.4" />
<line x1="177.3" y1="290.1" x2="178.5" y2="290.1" stroke="#333" stroke-width="0.4" />
<line x1="177.3" y1="296.3" x2="178.5" y2="296.3" stroke="#333" stroke-width="0.4" />
<line x1="177.3" y1="302.5" x2="178.5" y2="302.5" stroke="#333" stroke-width="0.4" />
<text x="176.7" y="272.58" font-size="3" fill="#3a3a3a" font-weight="bold" text-anchor="end" textLength="1.9" lengthAdjust="spacingAndGlyphs" stroke="#3a3a3a" stroke-width="0.12" >5</text>
<text x="176.7" y="278.78" font-size="3" fill="#3a3a3a" font-weight="bold" text-anchor="end" textLength="1.9" lengthAdjust="spacingAndGlyphs" stroke="#3a3a3a" stroke-width="0.12" >4</text>
<text x="176.7" y="284.98" font-size="3" fill="#3a3a3a" font-weight="bold" text-anchor="end" textLength="1.9" lengthAdjust="spacingAndGlyphs" stroke="#3a3a3a" stroke-width="0.12" >3</text>
<text x="176.7" y="291.18" font-size="3" fill="#3a3a3a" font-weight="bold" text-anchor="end" textLength="1.9" lengthAdjust="spacingAndGlyphs" stroke="#3a3a3a" stroke-width="0.12" >2</text>
<text x="176.7" y="297.38" font-size="3" fill="#3a3a3a" font-weight="bold" text-anchor="end" textLength="1.9" lengthAdjust="spacingAndGlyphs" stroke="#3a3a3a" stroke-width="0.12" >1</text>
<text x="176.7" y="303.58" font-size="3" fill="#3a3a3a" font-weight="bold" text-anchor="end" textLength="1.9" lengthAdjust="spacingAndGlyphs" stroke="#3a3a3a" stroke-width="0.12" >0</text>
<line x1="182.9" y1="302.5" x2="182.9" y2="303.5" stroke="#333" stroke-width="0.4" />
<line x1="183.7" y1="305.9" x2="177.83" y2="311.77" stroke="#6e6e6e" stroke-width="1.4"/>
<line x1="189.45" y1="302.5" x2="189.45" y2="303.5" stroke="#333" stroke-width="0.4" />
<line x1="190.25" y1="305.9" x2="184.38" y2="311.77" stroke="#6e6e6e" stroke-width="1.4"/>
<line x1="196" y1="302.5" x2="196" y2="303.5" stroke="#333" stroke-width="0.4" />
<line x1="196.8" y1="305.9" x2="190.93" y2="311.77" stroke="#6e6e6e" stroke-width="1.4"/>
<line x1="202.55" y1="302.5" x2="202.55" y2="303.5" stroke="#333" stroke-width="0.4" />
<line x1="203.35" y1="305.9" x2="197.48" y2="311.77" stroke="#6e6e6e" stroke-width="1.4"/>
<line x1="209.1" y1="302.5" x2="209.1" y2="303.5" stroke="#333" stroke-width="0.4" />
<line x1="209.9" y1="305.9" x2="204.03" y2="311.77" stroke="#6e6e6e" stroke-width="1.4"/>
<text x="0" y="0" font-size="3.6" font-weight="bold" fill="#444" stroke="#444" stroke-width="0.1" transform="translate(168.9,287) rotate(-90)" text-anchor="middle">RMSE</text>
<rect x="230.2" y="291.6" width="3.9" height="10.9" rx="0" fill="#9d9d9d" stroke="none" stroke-width="0.6" />
<line x1="228.7" y1="271" x2="228.7" y2="302.5" stroke="#222" stroke-width="0.8" />
<line x1="228.7" y1="302.5" x2="236.4" y2="302.5" stroke="#222" stroke-width="0.8" />
<line x1="227.5" y1="271.5" x2="228.7" y2="271.5" stroke="#333" stroke-width="0.4" />
<line x1="227.5" y1="277.7" x2="228.7" y2="277.7" stroke="#333" stroke-width="0.4" />
<line x1="227.5" y1="283.9" x2="228.7" y2="283.9" stroke="#333" stroke-width="0.4" />
<line x1="227.5" y1="290.1" x2="228.7" y2="290.1" stroke="#333" stroke-width="0.4" />
<line x1="227.5" y1="296.3" x2="228.7" y2="296.3" stroke="#333" stroke-width="0.4" />
<line x1="227.5" y1="302.5" x2="228.7" y2="302.5" stroke="#333" stroke-width="0.4" />
<text x="226.9" y="272.58" font-size="3" fill="#3a3a3a" font-weight="bold" text-anchor="end" textLength="1.9" lengthAdjust="spacingAndGlyphs" stroke="#3a3a3a" stroke-width="0.12" >5</text>
<text x="226.9" y="278.78" font-size="3" fill="#3a3a3a" font-weight="bold" text-anchor="end" textLength="1.9" lengthAdjust="spacingAndGlyphs" stroke="#3a3a3a" stroke-width="0.12" >4</text>
<text x="226.9" y="284.98" font-size="3" fill="#3a3a3a" font-weight="bold" text-anchor="end" textLength="1.9" lengthAdjust="spacingAndGlyphs" stroke="#3a3a3a" stroke-width="0.12" >3</text>
<text x="226.9" y="291.18" font-size="3" fill="#3a3a3a" font-weight="bold" text-anchor="end" textLength="1.9" lengthAdjust="spacingAndGlyphs" stroke="#3a3a3a" stroke-width="0.12" >2</text>
<text x="226.9" y="297.38" font-size="3" fill="#3a3a3a" font-weight="bold" text-anchor="end" textLength="1.9" lengthAdjust="spacingAndGlyphs" stroke="#3a3a3a" stroke-width="0.12" >1</text>
<text x="226.9" y="303.58" font-size="3" fill="#3a3a3a" font-weight="bold" text-anchor="end" textLength="1.9" lengthAdjust="spacingAndGlyphs" stroke="#3a3a3a" stroke-width="0.12" >0</text>
<line x1="232.15" y1="302.5" x2="232.15" y2="303.5" stroke="#333" stroke-width="0.4" />
<line x1="232.95" y1="305.9" x2="225.88" y2="312.97" stroke="#6e6e6e" stroke-width="1.4"/>
<text x="0" y="0" font-size="3.6" font-weight="bold" fill="#444" stroke="#444" stroke-width="0.1" transform="translate(219.1,287) rotate(-90)" text-anchor="middle">RMSE</text>
<line x1="28.5" y1="291.6" x2="231.8" y2="291.6" stroke="#f05050" stroke-width="0.75" stroke-dasharray="2.2,1.3,0.7,1.3"/>
<text x="234.9" y="294.23" font-size="4.8" fill="#222222" font-weight="bold" textLength="6.5" lengthAdjust="spacingAndGlyphs" stroke="#222222" stroke-width="0.08" >1.5</text>
<text x="256.8" y="229.36" font-size="11" fill="#222222" stroke="#222222" stroke-width="0.12" >d</text>
<rect x="312.3" y="256" width="16.56" height="14.6" rx="0" fill="#42b074" stroke="none" stroke-width="0.6" />
<rect x="328.86" y="256" width="16.56" height="14.6" rx="0" fill="#42b074" stroke="none" stroke-width="0.6" />
<rect x="361.99" y="256" width="16.56" height="14.6" rx="0" fill="#42b074" stroke="none" stroke-width="0.6" />
<rect x="395.12" y="256" width="16.56" height="14.6" rx="0" fill="#42b074" stroke="none" stroke-width="0.6" />
<rect x="411.69" y="256" width="16.56" height="14.6" rx="0" fill="#42b074" stroke="none" stroke-width="0.6" />
<rect x="428.25" y="256" width="16.56" height="14.6" rx="0" fill="#42b074" stroke="none" stroke-width="0.6" />
<rect x="444.81" y="256" width="16.56" height="14.6" rx="0" fill="#42b074" stroke="none" stroke-width="0.6" />
<rect x="461.38" y="256" width="16.56" height="14.6" rx="0" fill="#42b074" stroke="none" stroke-width="0.6" />
<rect x="477.94" y="256" width="16.56" height="14.6" rx="0" fill="#42b074" stroke="none" stroke-width="0.6" />
<rect x="494.51" y="256" width="16.56" height="14.6" rx="0" fill="#42b074" stroke="none" stroke-width="0.6" />
<rect x="511.07" y="256" width="16.56" height="14.6" rx="0" fill="#42b074" stroke="none" stroke-width="0.6" />
<rect x="527.64" y="256" width="16.56" height="14.6" rx="0" fill="#42b074" stroke="none" stroke-width="0.6" />
<rect x="312.3" y="270.6" width="16.56" height="14.6" rx="0" fill="#44b7e6" stroke="none" stroke-width="0.6" />
<rect x="328.86" y="270.6" width="16.56" height="14.6" rx="0" fill="#44b7e6" stroke="none" stroke-width="0.6" />
<rect x="345.43" y="270.6" width="16.56" height="14.6" rx="0" fill="#44b7e6" stroke="none" stroke-width="0.6" />
<rect x="361.99" y="270.6" width="16.56" height="14.6" rx="0" fill="#44b7e6" stroke="none" stroke-width="0.6" />
<rect x="395.12" y="270.6" width="16.56" height="14.6" rx="0" fill="#44b7e6" stroke="none" stroke-width="0.6" />
<rect x="411.69" y="270.6" width="16.56" height="14.6" rx="0" fill="#44b7e6" stroke="none" stroke-width="0.6" />
<rect x="428.25" y="270.6" width="16.56" height="14.6" rx="0" fill="#44b7e6" stroke="none" stroke-width="0.6" />
<rect x="444.81" y="270.6" width="16.56" height="14.6" rx="0" fill="#44b7e6" stroke="none" stroke-width="0.6" />
<rect x="461.38" y="270.6" width="16.56" height="14.6" rx="0" fill="#44b7e6" stroke="none" stroke-width="0.6" />
<rect x="477.94" y="270.6" width="16.56" height="14.6" rx="0" fill="#44b7e6" stroke="none" stroke-width="0.6" />
<rect x="494.51" y="270.6" width="16.56" height="14.6" rx="0" fill="#44b7e6" stroke="none" stroke-width="0.6" />
<rect x="511.07" y="270.6" width="16.56" height="14.6" rx="0" fill="#44b7e6" stroke="none" stroke-width="0.6" />
<rect x="527.64" y="270.6" width="16.56" height="14.6" rx="0" fill="#44b7e6" stroke="none" stroke-width="0.6" />
<rect x="312.3" y="285.2" width="16.56" height="15.6" rx="0" fill="#e68d45" stroke="none" stroke-width="0.6" />
<rect x="328.86" y="285.2" width="16.56" height="15.6" rx="0" fill="#e68d45" stroke="none" stroke-width="0.6" />
<rect x="361.99" y="285.2" width="16.56" height="15.6" rx="0" fill="#e68d45" stroke="none" stroke-width="0.6" />
<rect x="395.12" y="285.2" width="16.56" height="15.6" rx="0" fill="#e68d45" stroke="none" stroke-width="0.6" />
<rect x="411.69" y="285.2" width="16.56" height="15.6" rx="0" fill="#e68d45" stroke="none" stroke-width="0.6" />
<rect x="428.25" y="285.2" width="16.56" height="15.6" rx="0" fill="#e68d45" stroke="none" stroke-width="0.6" />
<rect x="444.81" y="285.2" width="16.56" height="15.6" rx="0" fill="#e68d45" stroke="none" stroke-width="0.6" />
<rect x="461.38" y="285.2" width="16.56" height="15.6" rx="0" fill="#e68d45" stroke="none" stroke-width="0.6" />
<rect x="477.94" y="285.2" width="16.56" height="15.6" rx="0" fill="#e68d45" stroke="none" stroke-width="0.6" />
<rect x="494.51" y="285.2" width="16.56" height="15.6" rx="0" fill="#e68d45" stroke="none" stroke-width="0.6" />
<rect x="511.07" y="285.2" width="16.56" height="15.6" rx="0" fill="#e68d45" stroke="none" stroke-width="0.6" />
<rect x="527.64" y="285.2" width="16.56" height="15.6" rx="0" fill="#e68d45" stroke="none" stroke-width="0.6" />
<rect x="312.3" y="300.8" width="16.56" height="16.4" rx="0" fill="#dbaacd" stroke="none" stroke-width="0.6" />
<rect x="328.86" y="300.8" width="16.56" height="16.4" rx="0" fill="#dbaacd" stroke="none" stroke-width="0.6" />
<rect x="361.99" y="300.8" width="16.56" height="16.4" rx="0" fill="#dbaacd" stroke="none" stroke-width="0.6" />
<rect x="395.12" y="300.8" width="16.56" height="16.4" rx="0" fill="#dbaacd" stroke="none" stroke-width="0.6" />
<rect x="411.69" y="300.8" width="16.56" height="16.4" rx="0" fill="#dbaacd" stroke="none" stroke-width="0.6" />
<rect x="428.25" y="300.8" width="16.56" height="16.4" rx="0" fill="#dbaacd" stroke="none" stroke-width="0.6" />
<rect x="444.81" y="300.8" width="16.56" height="16.4" rx="0" fill="#dbaacd" stroke="none" stroke-width="0.6" />
<rect x="461.38" y="300.8" width="16.56" height="16.4" rx="0" fill="#dbaacd" stroke="none" stroke-width="0.6" />
<rect x="477.94" y="300.8" width="16.56" height="16.4" rx="0" fill="#dbaacd" stroke="none" stroke-width="0.6" />
<rect x="494.51" y="300.8" width="16.56" height="16.4" rx="0" fill="#dbaacd" stroke="none" stroke-width="0.6" />
<rect x="527.64" y="300.8" width="16.56" height="16.4" rx="0" fill="#dbaacd" stroke="none" stroke-width="0.6" />
<line x1="268.3" y1="256" x2="544.2" y2="256" stroke="#2a2a2a" stroke-width="0.75" stroke-dasharray="1.3,0.8"/>
<line x1="268.3" y1="270.6" x2="544.2" y2="270.6" stroke="#2a2a2a" stroke-width="0.75" stroke-dasharray="1.3,0.8"/>
<line x1="268.3" y1="285.2" x2="544.2" y2="285.2" stroke="#2a2a2a" stroke-width="0.75" stroke-dasharray="1.3,0.8"/>
<line x1="268.3" y1="300.8" x2="544.2" y2="300.8" stroke="#2a2a2a" stroke-width="0.75" stroke-dasharray="1.3,0.8"/>
<line x1="268.3" y1="317.2" x2="544.2" y2="317.2" stroke="#2a2a2a" stroke-width="0.75" stroke-dasharray="1.3,0.8"/>
<line x1="268.3" y1="242.4" x2="268.3" y2="317.2" stroke="#2a2a2a" stroke-width="0.75" stroke-dasharray="1.3,0.8"/>
<line x1="312.3" y1="244.2" x2="312.3" y2="317.2" stroke="#2a2a2a" stroke-width="0.75" stroke-dasharray="1.3,0.8"/>
<line x1="328.86" y1="244.2" x2="328.86" y2="317.2" stroke="#2a2a2a" stroke-width="0.75" stroke-dasharray="1.3,0.8"/>
<line x1="345.43" y1="244.2" x2="345.43" y2="317.2" stroke="#2a2a2a" stroke-width="0.75" stroke-dasharray="1.3,0.8"/>
<line x1="361.99" y1="244.2" x2="361.99" y2="317.2" stroke="#2a2a2a" stroke-width="0.75" stroke-dasharray="1.3,0.8"/>
<line x1="378.56" y1="244.2" x2="378.56" y2="317.2" stroke="#2a2a2a" stroke-width="0.75" stroke-dasharray="1.3,0.8"/>
<line x1="395.12" y1="244.2" x2="395.12" y2="317.2" stroke="#2a2a2a" stroke-width="0.75" stroke-dasharray="1.3,0.8"/>
<line x1="411.69" y1="244.2" x2="411.69" y2="317.2" stroke="#2a2a2a" stroke-width="0.75" stroke-dasharray="1.3,0.8"/>
<line x1="428.25" y1="244.2" x2="428.25" y2="317.2" stroke="#2a2a2a" stroke-width="0.75" stroke-dasharray="1.3,0.8"/>
<line x1="444.81" y1="244.2" x2="444.81" y2="317.2" stroke="#2a2a2a" stroke-width="0.75" stroke-dasharray="1.3,0.8"/>
<line x1="461.38" y1="244.2" x2="461.38" y2="317.2" stroke="#2a2a2a" stroke-width="0.75" stroke-dasharray="1.3,0.8"/>
<line x1="477.94" y1="244.2" x2="477.94" y2="317.2" stroke="#2a2a2a" stroke-width="0.75" stroke-dasharray="1.3,0.8"/>
<line x1="494.51" y1="244.2" x2="494.51" y2="317.2" stroke="#2a2a2a" stroke-width="0.75" stroke-dasharray="1.3,0.8"/>
<line x1="511.07" y1="244.2" x2="511.07" y2="317.2" stroke="#2a2a2a" stroke-width="0.75" stroke-dasharray="1.3,0.8"/>
<line x1="527.64" y1="244.2" x2="527.64" y2="317.2" stroke="#2a2a2a" stroke-width="0.75" stroke-dasharray="1.3,0.8"/>
<line x1="544.2" y1="244.2" x2="544.2" y2="317.2" stroke="#2a2a2a" stroke-width="0.75" stroke-dasharray="1.3,0.8"/>
<text x="320.58" y="252.82" font-size="7" fill="#333" text-anchor="middle" stroke="#333" stroke-width="0.17" >0</text>
<text x="337.15" y="252.82" font-size="7" fill="#333" text-anchor="middle" stroke="#333" stroke-width="0.17" >0</text>
<text x="353.71" y="252.82" font-size="7" fill="#333" text-anchor="middle" stroke="#333" stroke-width="0.17" >4</text>
<text x="370.27" y="252.82" font-size="7" fill="#333" text-anchor="middle" stroke="#333" stroke-width="0.17" >4</text>
<text x="386.84" y="252.82" font-size="7" fill="#333" text-anchor="middle" stroke="#333" stroke-width="0.17" >8</text>
<text x="403.4" y="252.82" font-size="7" fill="#333" text-anchor="middle" stroke="#333" stroke-width="0.17" >8</text>
<text x="419.97" y="252.82" font-size="7" fill="#333" text-anchor="middle" stroke="#333" stroke-width="0.17" >12</text>
<text x="436.53" y="252.82" font-size="7" fill="#333" text-anchor="middle" stroke="#333" stroke-width="0.17" >12</text>
<text x="453.1" y="252.82" font-size="7" fill="#333" text-anchor="middle" stroke="#333" stroke-width="0.17" >16</text>
<text x="469.66" y="252.82" font-size="7" fill="#333" text-anchor="middle" stroke="#333" stroke-width="0.17" >16</text>
<text x="486.23" y="252.82" font-size="7" fill="#333" text-anchor="middle" stroke="#333" stroke-width="0.17" >20</text>
<text x="502.79" y="252.82" font-size="7" fill="#333" text-anchor="middle" stroke="#333" stroke-width="0.17" >20</text>
<text x="519.35" y="252.82" font-size="7" fill="#333" text-anchor="middle" stroke="#333" stroke-width="0.17" >24</text>
<text x="535.92" y="252.82" font-size="7" fill="#333" text-anchor="middle" stroke="#333" stroke-width="0.17" >24</text>
<text x="320.58" y="265.82" font-size="7" fill="#2b2b2b" text-anchor="middle" stroke="#2b2b2b" stroke-width="0.17" >0</text>
<text x="337.15" y="265.82" font-size="7" fill="#2b2b2b" text-anchor="middle" stroke="#2b2b2b" stroke-width="0.17" >0</text>
<text x="353.71" y="265.82" font-size="7" fill="#ee3b36" text-anchor="middle" stroke="#ee3b36" stroke-width="0.17" >8</text>
<text x="370.27" y="265.82" font-size="7" fill="#2b2b2b" text-anchor="middle" stroke="#2b2b2b" stroke-width="0.17" >4</text>
<text x="386.84" y="265.82" font-size="7" fill="#ee3b36" text-anchor="middle" stroke="#ee3b36" stroke-width="0.17" >12</text>
<text x="403.4" y="265.82" font-size="7" fill="#2b2b2b" text-anchor="middle" stroke="#2b2b2b" stroke-width="0.17" >8</text>
<text x="419.97" y="265.82" font-size="7" fill="#2b2b2b" text-anchor="middle" stroke="#2b2b2b" stroke-width="0.17" >12</text>
<text x="436.53" y="265.82" font-size="7" fill="#2b2b2b" text-anchor="middle" stroke="#2b2b2b" stroke-width="0.17" >12</text>
<text x="453.1" y="265.82" font-size="7" fill="#2b2b2b" text-anchor="middle" stroke="#2b2b2b" stroke-width="0.17" >16</text>
<text x="469.66" y="265.82" font-size="7" fill="#2b2b2b" text-anchor="middle" stroke="#2b2b2b" stroke-width="0.17" >16</text>
<text x="486.23" y="265.82" font-size="7" fill="#2b2b2b" text-anchor="middle" stroke="#2b2b2b" stroke-width="0.17" >20</text>
<text x="502.79" y="265.82" font-size="7" fill="#2b2b2b" text-anchor="middle" stroke="#2b2b2b" stroke-width="0.17" >20</text>
<text x="519.35" y="265.82" font-size="7" fill="#2b2b2b" text-anchor="middle" stroke="#2b2b2b" stroke-width="0.17" >24</text>
<text x="535.92" y="265.82" font-size="7" fill="#2b2b2b" text-anchor="middle" stroke="#2b2b2b" stroke-width="0.17" >24</text>
<text x="320.58" y="280.42" font-size="7" fill="#2b2b2b" text-anchor="middle" stroke="#2b2b2b" stroke-width="0.17" >0</text>
<text x="337.15" y="280.42" font-size="7" fill="#2b2b2b" text-anchor="middle" stroke="#2b2b2b" stroke-width="0.17" >0</text>
<text x="353.71" y="280.42" font-size="7" fill="#2b2b2b" text-anchor="middle" stroke="#2b2b2b" stroke-width="0.17" >4</text>
<text x="370.27" y="280.42" font-size="7" fill="#2b2b2b" text-anchor="middle" stroke="#2b2b2b" stroke-width="0.17" >4</text>
<text x="386.84" y="280.42" font-size="7" fill="#ee3b36" text-anchor="middle" stroke="#ee3b36" stroke-width="0.17" >12</text>
<text x="403.4" y="280.42" font-size="7" fill="#2b2b2b" text-anchor="middle" stroke="#2b2b2b" stroke-width="0.17" >8</text>
<text x="419.97" y="280.42" font-size="7" fill="#2b2b2b" text-anchor="middle" stroke="#2b2b2b" stroke-width="0.17" >12</text>
<text x="436.53" y="280.42" font-size="7" fill="#2b2b2b" text-anchor="middle" stroke="#2b2b2b" stroke-width="0.17" >12</text>
<text x="453.1" y="280.42" font-size="7" fill="#2b2b2b" text-anchor="middle" stroke="#2b2b2b" stroke-width="0.17" >16</text>
<text x="469.66" y="280.42" font-size="7" fill="#2b2b2b" text-anchor="middle" stroke="#2b2b2b" stroke-width="0.17" >16</text>
<text x="486.23" y="280.42" font-size="7" fill="#2b2b2b" text-anchor="middle" stroke="#2b2b2b" stroke-width="0.17" >20</text>
<text x="502.79" y="280.42" font-size="7" fill="#2b2b2b" text-anchor="middle" stroke="#2b2b2b" stroke-width="0.17" >20</text>
<text x="519.35" y="280.42" font-size="7" fill="#2b2b2b" text-anchor="middle" stroke="#2b2b2b" stroke-width="0.17" >24</text>
<text x="535.92" y="280.42" font-size="7" fill="#2b2b2b" text-anchor="middle" stroke="#2b2b2b" stroke-width="0.17" >24</text>
<text x="320.58" y="295.52" font-size="7" fill="#2b2b2b" text-anchor="middle" stroke="#2b2b2b" stroke-width="0.17" >0</text>
<text x="337.15" y="295.52" font-size="7" fill="#2b2b2b" text-anchor="middle" stroke="#2b2b2b" stroke-width="0.17" >0</text>
<text x="353.71" y="295.52" font-size="7" fill="#ee3b36" text-anchor="middle" stroke="#ee3b36" stroke-width="0.17" >0</text>
<text x="370.27" y="295.52" font-size="7" fill="#2b2b2b" text-anchor="middle" stroke="#2b2b2b" stroke-width="0.17" >4</text>
<text x="386.84" y="295.52" font-size="7" fill="#ee3b36" text-anchor="middle" stroke="#ee3b36" stroke-width="0.17" >12</text>
<text x="403.4" y="295.52" font-size="7" fill="#2b2b2b" text-anchor="middle" stroke="#2b2b2b" stroke-width="0.17" >8</text>
<text x="419.97" y="295.52" font-size="7" fill="#2b2b2b" text-anchor="middle" stroke="#2b2b2b" stroke-width="0.17" >12</text>
<text x="436.53" y="295.52" font-size="7" fill="#2b2b2b" text-anchor="middle" stroke="#2b2b2b" stroke-width="0.17" >12</text>
<text x="453.1" y="295.52" font-size="7" fill="#2b2b2b" text-anchor="middle" stroke="#2b2b2b" stroke-width="0.17" >16</text>
<text x="469.66" y="295.52" font-size="7" fill="#2b2b2b" text-anchor="middle" stroke="#2b2b2b" stroke-width="0.17" >16</text>
<text x="486.23" y="295.52" font-size="7" fill="#2b2b2b" text-anchor="middle" stroke="#2b2b2b" stroke-width="0.17" >20</text>
<text x="502.79" y="295.52" font-size="7" fill="#2b2b2b" text-anchor="middle" stroke="#2b2b2b" stroke-width="0.17" >20</text>
<text x="519.35" y="295.52" font-size="7" fill="#2b2b2b" text-anchor="middle" stroke="#2b2b2b" stroke-width="0.17" >24</text>
<text x="535.92" y="295.52" font-size="7" fill="#2b2b2b" text-anchor="middle" stroke="#2b2b2b" stroke-width="0.17" >24</text>
<text x="320.58" y="311.52" font-size="7" fill="#2b2b2b" text-anchor="middle" stroke="#2b2b2b" stroke-width="0.17" >0</text>
<text x="337.15" y="311.52" font-size="7" fill="#2b2b2b" text-anchor="middle" stroke="#2b2b2b" stroke-width="0.17" >0</text>
<text x="353.71" y="311.52" font-size="7" fill="#ee3b36" text-anchor="middle" stroke="#ee3b36" stroke-width="0.17" >0</text>
<text x="370.27" y="311.52" font-size="7" fill="#2b2b2b" text-anchor="middle" stroke="#2b2b2b" stroke-width="0.17" >4</text>
<text x="386.84" y="311.52" font-size="7" fill="#ee3b36" text-anchor="middle" stroke="#ee3b36" stroke-width="0.17" >12</text>
<text x="403.4" y="311.52" font-size="7" fill="#2b2b2b" text-anchor="middle" stroke="#2b2b2b" stroke-width="0.17" >12</text>
<text x="419.97" y="311.52" font-size="7" fill="#2b2b2b" text-anchor="middle" stroke="#2b2b2b" stroke-width="0.17" >12</text>
<text x="436.53" y="311.52" font-size="7" fill="#2b2b2b" text-anchor="middle" stroke="#2b2b2b" stroke-width="0.17" >12</text>
<text x="453.1" y="311.52" font-size="7" fill="#2b2b2b" text-anchor="middle" stroke="#2b2b2b" stroke-width="0.17" >16</text>
<text x="469.66" y="311.52" font-size="7" fill="#2b2b2b" text-anchor="middle" stroke="#2b2b2b" stroke-width="0.17" >16</text>
<text x="486.23" y="311.52" font-size="7" fill="#2b2b2b" text-anchor="middle" stroke="#2b2b2b" stroke-width="0.17" >20</text>
<text x="502.79" y="311.52" font-size="7" fill="#2b2b2b" text-anchor="middle" stroke="#2b2b2b" stroke-width="0.17" >20</text>
<text x="519.35" y="311.52" font-size="7" fill="#ee3b36" text-anchor="middle" stroke="#ee3b36" stroke-width="0.17" >20</text>
<text x="535.92" y="311.52" font-size="7" fill="#2b2b2b" text-anchor="middle" stroke="#2b2b2b" stroke-width="0.17" >24</text>
<line x1="268.3" y1="242.4" x2="312.3" y2="256" stroke="#555" stroke-width="0.35" />
<line x1="268.3" y1="242.4" x2="282.8" y2="256" stroke="#555" stroke-width="0.35" />
<text x="290.6" y="247.4" font-size="5" fill="#333" font-style="italic" textLength="15.2" lengthAdjust="spacingAndGlyphs" stroke="#333" stroke-width="0.12" >Actual</text>
<text x="282.8" y="254" font-size="5" fill="#333" font-style="italic" textLength="8.5" lengthAdjust="spacingAndGlyphs" stroke="#333" stroke-width="0.12" >Pre</text>
<text x="269.2" y="254.26" font-size="4.6" fill="#333" font-style="italic" textLength="8.5" lengthAdjust="spacingAndGlyphs" stroke="#333" stroke-width="0.11" >Mol</text>
<text x="290.6" y="265.39" font-size="5.8" fill="#444" text-anchor="middle" textLength="26.2" lengthAdjust="spacingAndGlyphs" stroke="#444" stroke-width="0.14" >SVM+MLP</text>
<text x="290.6" y="279.99" font-size="5.8" fill="#444" text-anchor="middle" textLength="36.65" lengthAdjust="spacingAndGlyphs" stroke="#444" stroke-width="0.14" >RF+SVM+MLP</text>
<text x="290.6" y="291.89" font-size="5.8" fill="#444" text-anchor="middle" textLength="36.65" lengthAdjust="spacingAndGlyphs" stroke="#444" stroke-width="0.14" >RF+SVM+MLP</text>
<text x="290.6" y="298.39" font-size="5.8" fill="#444" text-anchor="middle" textLength="14.99" lengthAdjust="spacingAndGlyphs" stroke="#444" stroke-width="0.14" >+SGD</text>
<text x="290.6" y="307.89" font-size="5.8" fill="#444" text-anchor="middle" textLength="36.65" lengthAdjust="spacingAndGlyphs" stroke="#444" stroke-width="0.14" >RF+SVM+MLP</text>
<text x="290.6" y="314.39" font-size="5.8" fill="#444" text-anchor="middle" textLength="26.05" lengthAdjust="spacingAndGlyphs" stroke="#444" stroke-width="0.14" >+SGD+GB</text>
<text x="0" y="0" font-size="8.4" fill="#333" stroke="#333" stroke-width="0.15" transform="translate(265.4,280.2) rotate(-90)" text-anchor="middle" textLength="66.6" lengthAdjust="spacingAndGlyphs">Internal Validation</text>
</svg></body></html>
